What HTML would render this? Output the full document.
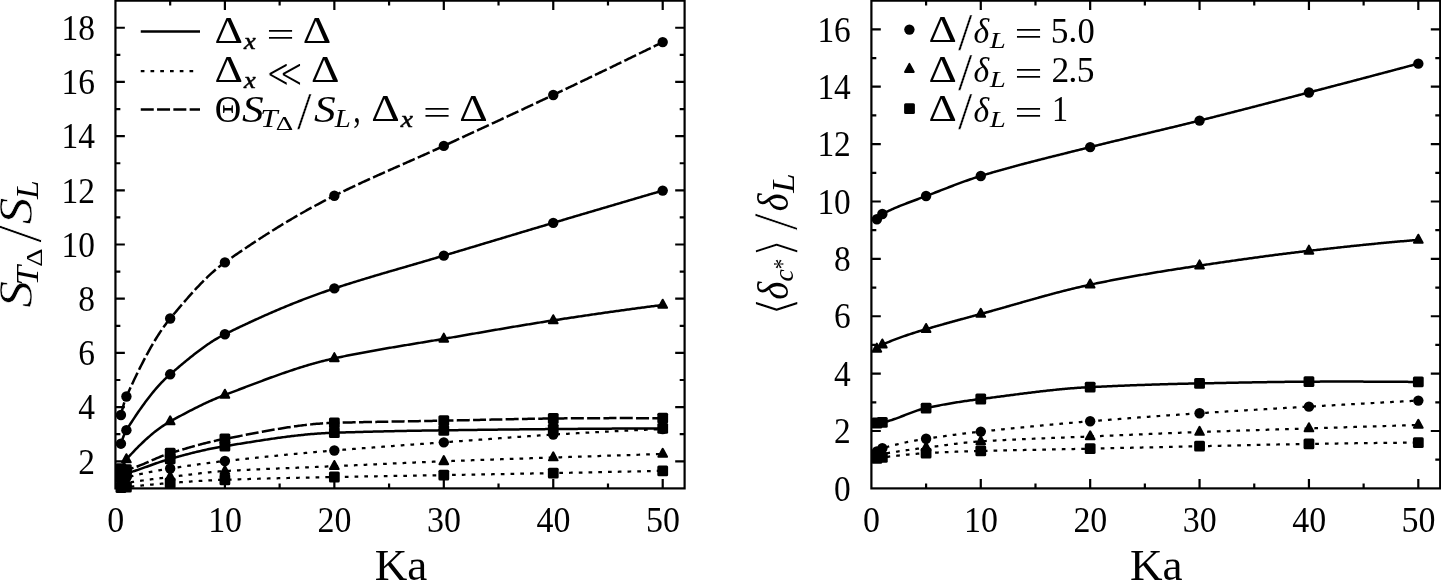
<!DOCTYPE html>
<html lang="en"><head><meta charset="utf-8"><title>Ka plots</title>
<style>html,body{margin:0;padding:0;background:#fff}svg{display:block}</style>
</head><body>
<svg width="1441" height="580" viewBox="0 0 1441 580">
<rect width="1441" height="580" fill="#fff"/>
<rect x="115.45" y="0.65" width="569.15" height="487.75" fill="none" stroke="#000" stroke-width="2.2"/>
<path d="M170.18 488.4v-4.9M170.18 0.65v4.9M224.9 488.4v-9.4M224.9 0.65v9.4M279.63 488.4v-4.9M279.63 0.65v4.9M334.35 488.4v-9.4M334.35 0.65v9.4M389.08 488.4v-4.9M389.08 0.65v4.9M443.81 488.4v-9.4M443.81 0.65v9.4M498.53 488.4v-4.9M498.53 0.65v4.9M553.26 488.4v-9.4M553.26 0.65v9.4M607.98 488.4v-4.9M607.98 0.65v4.9M662.71 488.4v-9.4M662.71 0.65v9.4M115.45 461.3h9.4M684.6 461.3h-9.4M115.45 407.11h9.4M684.6 407.11h-9.4M115.45 352.91h9.4M684.6 352.91h-9.4M115.45 298.72h9.4M684.6 298.72h-9.4M115.45 244.52h9.4M684.6 244.52h-9.4M115.45 190.33h9.4M684.6 190.33h-9.4M115.45 136.14h9.4M684.6 136.14h-9.4M115.45 81.94h9.4M684.6 81.94h-9.4M115.45 27.75h9.4M684.6 27.75h-9.4M115.45 434.21h4.9M684.6 434.21h-4.9M115.45 380.01h4.9M684.6 380.01h-4.9M115.45 325.82h4.9M684.6 325.82h-4.9M115.45 271.62h4.9M684.6 271.62h-4.9M115.45 217.43h4.9M684.6 217.43h-4.9M115.45 163.23h4.9M684.6 163.23h-4.9M115.45 109.04h4.9M684.6 109.04h-4.9M115.45 54.84h4.9M684.6 54.84h-4.9" fill="none" stroke="#000" stroke-width="2.2"/>
<g font-family="Liberation Serif, DejaVu Serif, serif" font-size="35.0" fill="#000">
<text transform="translate(115.65 531.5) scale(0.97 1)" text-anchor="middle">0</text>
<text transform="translate(225.1 531.5) scale(0.97 1)" text-anchor="middle">10</text>
<text transform="translate(334.55 531.5) scale(0.97 1)" text-anchor="middle">20</text>
<text transform="translate(444.01 531.5) scale(0.97 1)" text-anchor="middle">30</text>
<text transform="translate(553.46 531.5) scale(0.97 1)" text-anchor="middle">40</text>
<text transform="translate(662.91 531.5) scale(0.97 1)" text-anchor="middle">50</text>
<text transform="translate(94.85 473.5) scale(0.955 1)" text-anchor="end">2</text>
<text transform="translate(94.85 419.31) scale(0.955 1)" text-anchor="end">4</text>
<text transform="translate(94.85 365.11) scale(0.955 1)" text-anchor="end">6</text>
<text transform="translate(94.85 310.92) scale(0.955 1)" text-anchor="end">8</text>
<text transform="translate(94.85 256.72) scale(0.955 1)" text-anchor="end">10</text>
<text transform="translate(94.85 202.53) scale(0.955 1)" text-anchor="end">12</text>
<text transform="translate(94.85 148.34) scale(0.955 1)" text-anchor="end">14</text>
<text transform="translate(94.85 94.14) scale(0.955 1)" text-anchor="end">16</text>
<text transform="translate(94.85 39.95) scale(0.955 1)" text-anchor="end">18</text>
</g>
<path d="M120.92 414.97L122.28 409.66L123.64 404.65L125 400.21L126.35 396.63L127.71 393.63L129.07 390.66L130.43 387.72L131.79 384.8L133.14 381.91L134.5 379.05L135.86 376.21L137.22 373.42L138.57 370.65L139.93 367.92L141.29 365.23L142.65 362.57L144.01 359.95L145.36 357.37L146.72 354.83L148.08 352.33L149.44 349.87L150.8 347.46L152.15 345.09L153.51 342.77L154.87 340.49L156.23 338.27L157.58 336.09L158.94 333.97L160.3 331.9L161.66 329.88L163.02 327.91L164.37 326L165.73 324.15L167.09 322.36L168.45 320.62L169.81 318.95L171.16 317.32L172.52 315.69L173.88 314.07L175.24 312.46L176.59 310.85L177.95 309.24L179.31 307.64L180.67 306.05L182.03 304.46L183.38 302.88L184.74 301.31L186.1 299.76L187.46 298.21L188.82 296.67L190.17 295.14L191.53 293.63L192.89 292.13L194.25 290.65L195.61 289.18L196.96 287.72L198.32 286.28L199.68 284.86L201.04 283.46L202.39 282.07L203.75 280.7L205.11 279.36L206.47 278.03L207.83 276.72L209.18 275.44L210.54 274.18L211.9 272.94L213.26 271.73L214.62 270.54L215.97 269.38L217.33 268.24L218.69 267.13L220.05 266.04L221.4 264.99L222.76 263.96L224.12 262.97L225.48 262L226.84 261.04L228.19 260.08L229.55 259.13L230.91 258.18L232.27 257.23L233.63 256.29L234.98 255.34L236.34 254.4L237.7 253.47L239.06 252.54L240.41 251.61L241.77 250.68L243.13 249.76L244.49 248.84L245.85 247.92L247.2 247.01L248.56 246.1L249.92 245.19L251.28 244.29L252.64 243.39L253.99 242.49L255.35 241.6L256.71 240.71L258.07 239.82L259.42 238.93L260.78 238.05L262.14 237.18L263.5 236.3L264.86 235.43L266.21 234.57L267.57 233.7L268.93 232.84L270.29 231.99L271.65 231.13L273 230.28L274.36 229.44L275.72 228.59L277.08 227.76L278.43 226.92L279.79 226.09L281.15 225.26L282.51 224.43L283.87 223.61L285.22 222.8L286.58 221.98L287.94 221.17L289.3 220.36L290.66 219.56L292.01 218.76L293.37 217.97L294.73 217.17L296.09 216.39L297.44 215.6L298.8 214.82L300.16 214.04L301.52 213.27L302.88 212.5L304.23 211.73L305.59 210.97L306.95 210.21L308.31 209.46L309.67 208.71L311.02 207.96L312.38 207.22L313.74 206.48L315.1 205.75L316.45 205.01L317.81 204.29L319.17 203.56L320.53 202.84L321.89 202.13L323.24 201.42L324.6 200.71L325.96 200.01L327.32 199.31L328.68 198.61L330.03 197.92L331.39 197.23L332.75 196.55L334.11 195.87L335.46 195.2L336.82 194.53L338.18 193.86L339.54 193.19L340.9 192.53L342.25 191.87L343.61 191.21L344.97 190.55L346.33 189.9L347.69 189.25L349.04 188.6L350.4 187.96L351.76 187.31L353.12 186.67L354.47 186.03L355.83 185.4L357.19 184.76L358.55 184.13L359.91 183.5L361.26 182.87L362.62 182.24L363.98 181.62L365.34 181L366.7 180.38L368.05 179.76L369.41 179.14L370.77 178.52L372.13 177.91L373.48 177.29L374.84 176.68L376.2 176.07L377.56 175.46L378.92 174.85L380.27 174.24L381.63 173.63L382.99 173.03L384.35 172.42L385.71 171.82L387.06 171.21L388.42 170.61L389.78 170.01L391.14 169.41L392.5 168.81L393.85 168.21L395.21 167.61L396.57 167.01L397.93 166.41L399.28 165.81L400.64 165.21L402 164.61L403.36 164.01L404.72 163.41L406.07 162.81L407.43 162.21L408.79 161.61L410.15 161.01L411.51 160.41L412.86 159.81L414.22 159.21L415.58 158.61L416.94 158.01L418.29 157.41L419.65 156.8L421.01 156.2L422.37 155.59L423.73 154.99L425.08 154.38L426.44 153.77L427.8 153.17L429.16 152.56L430.52 151.94L431.87 151.33L433.23 150.72L434.59 150.1L435.95 149.49L437.3 148.87L438.66 148.25L440.02 147.63L441.38 147.01L442.74 146.38L444.09 145.76L445.45 145.13L446.81 144.51L448.17 143.88L449.53 143.25L450.88 142.63L452.24 142L453.6 141.37L454.96 140.75L456.31 140.12L457.67 139.49L459.03 138.87L460.39 138.24L461.75 137.61L463.1 136.99L464.46 136.36L465.82 135.73L467.18 135.11L468.54 134.48L469.89 133.85L471.25 133.22L472.61 132.6L473.97 131.97L475.32 131.34L476.68 130.71L478.04 130.09L479.4 129.46L480.76 128.83L482.11 128.2L483.47 127.57L484.83 126.94L486.19 126.31L487.55 125.69L488.9 125.06L490.26 124.43L491.62 123.8L492.98 123.17L494.33 122.54L495.69 121.91L497.05 121.28L498.41 120.65L499.77 120.02L501.12 119.39L502.48 118.75L503.84 118.12L505.2 117.49L506.56 116.86L507.91 116.23L509.27 115.6L510.63 114.96L511.99 114.33L513.34 113.7L514.7 113.06L516.06 112.43L517.42 111.8L518.78 111.16L520.13 110.53L521.49 109.89L522.85 109.26L524.21 108.62L525.57 107.99L526.92 107.35L528.28 106.72L529.64 106.08L531 105.44L532.35 104.8L533.71 104.17L535.07 103.53L536.43 102.89L537.79 102.25L539.14 101.61L540.5 100.97L541.86 100.33L543.22 99.69L544.58 99.05L545.93 98.41L547.29 97.77L548.65 97.13L550.01 96.49L551.36 95.84L552.72 95.2L554.08 94.56L555.44 93.91L556.8 93.27L558.15 92.63L559.51 91.98L560.87 91.34L562.23 90.69L563.59 90.05L564.94 89.4L566.3 88.75L567.66 88.11L569.02 87.46L570.37 86.81L571.73 86.17L573.09 85.52L574.45 84.87L575.81 84.22L577.16 83.57L578.52 82.92L579.88 82.27L581.24 81.62L582.6 80.97L583.95 80.32L585.31 79.67L586.67 79.02L588.03 78.37L589.39 77.72L590.74 77.07L592.1 76.42L593.46 75.76L594.82 75.11L596.17 74.46L597.53 73.8L598.89 73.15L600.25 72.5L601.61 71.84L602.96 71.19L604.32 70.53L605.68 69.88L607.04 69.22L608.4 68.57L609.75 67.91L611.11 67.26L612.47 66.6L613.83 65.94L615.18 65.28L616.54 64.63L617.9 63.97L619.26 63.31L620.62 62.65L621.97 61.99L623.33 61.34L624.69 60.68L626.05 60.02L627.41 59.36L628.76 58.7L630.12 58.04L631.48 57.38L632.84 56.72L634.19 56.05L635.55 55.39L636.91 54.73L638.27 54.07L639.63 53.41L640.98 52.75L642.34 52.08L643.7 51.42L645.06 50.76L646.42 50.09L647.77 49.43L649.13 48.76L650.49 48.1L651.85 47.44L653.2 46.77L654.56 46.11L655.92 45.44L657.28 44.77L658.64 44.11L659.99 43.44L661.35 42.78L662.71 42.11" fill="none" stroke="#000" stroke-width="2.5" stroke-dasharray="13 3.3"/>
<g fill="#000"><circle cx="120.92" cy="414.97" r="5.2"/><circle cx="126.4" cy="396.54" r="5.2"/><circle cx="170.18" cy="318.5" r="5.2"/><circle cx="224.9" cy="262.41" r="5.2"/><circle cx="334.35" cy="195.75" r="5.2"/><circle cx="443.81" cy="145.89" r="5.2"/><circle cx="553.26" cy="94.95" r="5.2"/><circle cx="662.71" cy="42.11" r="5.2"/></g>
<path d="M120.92 443.69L122.28 439.77L123.64 436.07L125 432.81L126.35 430.21L127.71 428.05L129.07 425.91L130.43 423.8L131.79 421.7L133.14 419.63L134.5 417.58L135.86 415.55L137.22 413.54L138.57 411.56L139.93 409.61L141.29 407.68L142.65 405.77L144.01 403.9L145.36 402.05L146.72 400.24L148.08 398.45L149.44 396.7L150.8 394.97L152.15 393.28L153.51 391.63L154.87 390L156.23 388.42L157.58 386.86L158.94 385.35L160.3 383.87L161.66 382.43L163.02 381.03L164.37 379.67L165.73 378.35L167.09 377.07L168.45 375.83L169.81 374.64L171.16 373.48L172.52 372.32L173.88 371.16L175.24 370L176.59 368.85L177.95 367.7L179.31 366.55L180.67 365.41L182.03 364.27L183.38 363.14L184.74 362.01L186.1 360.89L187.46 359.78L188.82 358.67L190.17 357.57L191.53 356.48L192.89 355.41L194.25 354.34L195.61 353.28L196.96 352.23L198.32 351.2L199.68 350.18L201.04 349.17L202.39 348.17L203.75 347.19L205.11 346.23L206.47 345.28L207.83 344.34L209.18 343.43L210.54 342.53L211.9 341.64L213.26 340.78L214.62 339.93L215.97 339.11L217.33 338.31L218.69 337.52L220.05 336.76L221.4 336.02L222.76 335.3L224.12 334.61L225.48 333.93L226.84 333.27L228.19 332.6L229.55 331.94L230.91 331.28L232.27 330.62L233.63 329.96L234.98 329.31L236.34 328.65L237.7 328L239.06 327.36L240.41 326.71L241.77 326.07L243.13 325.43L244.49 324.79L245.85 324.15L247.2 323.51L248.56 322.88L249.92 322.25L251.28 321.62L252.64 321L253.99 320.38L255.35 319.76L256.71 319.14L258.07 318.52L259.42 317.91L260.78 317.3L262.14 316.69L263.5 316.08L264.86 315.48L266.21 314.88L267.57 314.28L268.93 313.69L270.29 313.09L271.65 312.5L273 311.92L274.36 311.33L275.72 310.75L277.08 310.17L278.43 309.59L279.79 309.02L281.15 308.45L282.51 307.88L283.87 307.31L285.22 306.75L286.58 306.19L287.94 305.63L289.3 305.08L290.66 304.53L292.01 303.98L293.37 303.43L294.73 302.89L296.09 302.35L297.44 301.81L298.8 301.28L300.16 300.75L301.52 300.22L302.88 299.69L304.23 299.17L305.59 298.65L306.95 298.14L308.31 297.62L309.67 297.12L311.02 296.61L312.38 296.11L313.74 295.61L315.1 295.11L316.45 294.62L317.81 294.13L319.17 293.64L320.53 293.16L321.89 292.68L323.24 292.2L324.6 291.72L325.96 291.25L327.32 290.79L328.68 290.32L330.03 289.86L331.39 289.41L332.75 288.95L334.11 288.5L335.46 288.06L336.82 287.61L338.18 287.17L339.54 286.73L340.9 286.29L342.25 285.85L343.61 285.42L344.97 284.98L346.33 284.55L347.69 284.12L349.04 283.69L350.4 283.27L351.76 282.84L353.12 282.42L354.47 281.99L355.83 281.57L357.19 281.15L358.55 280.74L359.91 280.32L361.26 279.9L362.62 279.49L363.98 279.08L365.34 278.66L366.7 278.25L368.05 277.84L369.41 277.44L370.77 277.03L372.13 276.62L373.48 276.22L374.84 275.81L376.2 275.41L377.56 275.01L378.92 274.6L380.27 274.2L381.63 273.8L382.99 273.4L384.35 273L385.71 272.61L387.06 272.21L388.42 271.81L389.78 271.42L391.14 271.02L392.5 270.62L393.85 270.23L395.21 269.83L396.57 269.44L397.93 269.04L399.28 268.65L400.64 268.26L402 267.86L403.36 267.47L404.72 267.08L406.07 266.68L407.43 266.29L408.79 265.9L410.15 265.5L411.51 265.11L412.86 264.72L414.22 264.32L415.58 263.93L416.94 263.53L418.29 263.14L419.65 262.75L421.01 262.35L422.37 261.96L423.73 261.56L425.08 261.16L426.44 260.77L427.8 260.37L429.16 259.97L430.52 259.57L431.87 259.17L433.23 258.78L434.59 258.37L435.95 257.97L437.3 257.57L438.66 257.17L440.02 256.77L441.38 256.36L442.74 255.96L444.09 255.55L445.45 255.14L446.81 254.73L448.17 254.33L449.53 253.92L450.88 253.51L452.24 253.11L453.6 252.7L454.96 252.29L456.31 251.88L457.67 251.48L459.03 251.07L460.39 250.66L461.75 250.25L463.1 249.85L464.46 249.44L465.82 249.03L467.18 248.62L468.54 248.22L469.89 247.81L471.25 247.4L472.61 246.99L473.97 246.58L475.32 246.18L476.68 245.77L478.04 245.36L479.4 244.95L480.76 244.55L482.11 244.14L483.47 243.73L484.83 243.32L486.19 242.91L487.55 242.51L488.9 242.1L490.26 241.69L491.62 241.28L492.98 240.87L494.33 240.47L495.69 240.06L497.05 239.65L498.41 239.24L499.77 238.84L501.12 238.43L502.48 238.02L503.84 237.61L505.2 237.21L506.56 236.8L507.91 236.39L509.27 235.98L510.63 235.58L511.99 235.17L513.34 234.76L514.7 234.36L516.06 233.95L517.42 233.54L518.78 233.14L520.13 232.73L521.49 232.32L522.85 231.92L524.21 231.51L525.57 231.1L526.92 230.7L528.28 230.29L529.64 229.89L531 229.48L532.35 229.07L533.71 228.67L535.07 228.26L536.43 227.86L537.79 227.45L539.14 227.05L540.5 226.64L541.86 226.24L543.22 225.83L544.58 225.43L545.93 225.03L547.29 224.62L548.65 224.22L550.01 223.81L551.36 223.41L552.72 223.01L554.08 222.6L555.44 222.2L556.8 221.8L558.15 221.39L559.51 220.99L560.87 220.59L562.23 220.18L563.59 219.78L564.94 219.38L566.3 218.98L567.66 218.57L569.02 218.17L570.37 217.77L571.73 217.37L573.09 216.96L574.45 216.56L575.81 216.16L577.16 215.76L578.52 215.36L579.88 214.95L581.24 214.55L582.6 214.15L583.95 213.75L585.31 213.35L586.67 212.95L588.03 212.54L589.39 212.14L590.74 211.74L592.1 211.34L593.46 210.94L594.82 210.54L596.17 210.14L597.53 209.74L598.89 209.34L600.25 208.94L601.61 208.54L602.96 208.14L604.32 207.74L605.68 207.34L607.04 206.94L608.4 206.53L609.75 206.13L611.11 205.74L612.47 205.34L613.83 204.94L615.18 204.54L616.54 204.14L617.9 203.74L619.26 203.34L620.62 202.94L621.97 202.54L623.33 202.14L624.69 201.74L626.05 201.34L627.41 200.94L628.76 200.54L630.12 200.15L631.48 199.75L632.84 199.35L634.19 198.95L635.55 198.55L636.91 198.15L638.27 197.75L639.63 197.36L640.98 196.96L642.34 196.56L643.7 196.16L645.06 195.76L646.42 195.37L647.77 194.97L649.13 194.57L650.49 194.17L651.85 193.78L653.2 193.38L654.56 192.98L655.92 192.59L657.28 192.19L658.64 191.79L659.99 191.39L661.35 191L662.71 190.6" fill="none" stroke="#000" stroke-width="2.5"/>
<g fill="#000"><circle cx="120.92" cy="443.69" r="5.2"/><circle cx="126.4" cy="430.14" r="5.2"/><circle cx="170.18" cy="374.32" r="5.2"/><circle cx="224.9" cy="334.22" r="5.2"/><circle cx="334.35" cy="288.42" r="5.2"/><circle cx="443.81" cy="255.63" r="5.2"/><circle cx="553.26" cy="222.85" r="5.2"/><circle cx="662.71" cy="190.6" r="5.2"/></g>
<path d="M120.92 470.52L122.28 467.22L123.64 464.11L125 461.43L126.35 459.45L127.71 457.94L129.07 456.44L130.43 454.96L131.79 453.5L133.14 452.05L134.5 450.63L135.86 449.22L137.22 447.84L138.57 446.47L139.93 445.12L141.29 443.8L142.65 442.5L144.01 441.22L145.36 439.96L146.72 438.72L148.08 437.51L149.44 436.32L150.8 435.16L152.15 434.02L153.51 432.9L154.87 431.82L156.23 430.75L157.58 429.72L158.94 428.71L160.3 427.73L161.66 426.78L163.02 425.85L164.37 424.96L165.73 424.09L167.09 423.26L168.45 422.45L169.81 421.68L171.16 420.92L172.52 420.18L173.88 419.43L175.24 418.69L176.59 417.95L177.95 417.21L179.31 416.47L180.67 415.74L182.03 415.01L183.38 414.29L184.74 413.56L186.1 412.85L187.46 412.13L188.82 411.42L190.17 410.72L191.53 410.02L192.89 409.33L194.25 408.64L195.61 407.95L196.96 407.27L198.32 406.6L199.68 405.94L201.04 405.28L202.39 404.62L203.75 403.97L205.11 403.33L206.47 402.7L207.83 402.08L209.18 401.46L210.54 400.85L211.9 400.24L213.26 399.65L214.62 399.06L215.97 398.49L217.33 397.92L218.69 397.36L220.05 396.81L221.4 396.26L222.76 395.73L224.12 395.21L225.48 394.7L226.84 394.19L228.19 393.67L229.55 393.16L230.91 392.64L232.27 392.13L233.63 391.61L234.98 391.09L236.34 390.58L237.7 390.06L239.06 389.54L240.41 389.02L241.77 388.51L243.13 387.99L244.49 387.47L245.85 386.95L247.2 386.44L248.56 385.92L249.92 385.4L251.28 384.89L252.64 384.37L253.99 383.86L255.35 383.35L256.71 382.84L258.07 382.32L259.42 381.81L260.78 381.31L262.14 380.8L263.5 380.29L264.86 379.79L266.21 379.29L267.57 378.79L268.93 378.29L270.29 377.79L271.65 377.3L273 376.8L274.36 376.31L275.72 375.83L277.08 375.34L278.43 374.86L279.79 374.38L281.15 373.9L282.51 373.43L283.87 372.95L285.22 372.48L286.58 372.02L287.94 371.56L289.3 371.1L290.66 370.64L292.01 370.19L293.37 369.74L294.73 369.29L296.09 368.85L297.44 368.41L298.8 367.98L300.16 367.55L301.52 367.12L302.88 366.7L304.23 366.29L305.59 365.87L306.95 365.46L308.31 365.06L309.67 364.66L311.02 364.27L312.38 363.88L313.74 363.49L315.1 363.11L316.45 362.74L317.81 362.37L319.17 362.01L320.53 361.65L321.89 361.3L323.24 360.95L324.6 360.61L325.96 360.27L327.32 359.94L328.68 359.62L330.03 359.3L331.39 358.99L332.75 358.69L334.11 358.39L335.46 358.09L336.82 357.8L338.18 357.51L339.54 357.23L340.9 356.94L342.25 356.66L343.61 356.38L344.97 356.1L346.33 355.83L347.69 355.55L349.04 355.28L350.4 355.01L351.76 354.74L353.12 354.48L354.47 354.21L355.83 353.95L357.19 353.69L358.55 353.43L359.91 353.17L361.26 352.91L362.62 352.66L363.98 352.41L365.34 352.16L366.7 351.91L368.05 351.66L369.41 351.41L370.77 351.16L372.13 350.92L373.48 350.68L374.84 350.43L376.2 350.19L377.56 349.95L378.92 349.71L380.27 349.48L381.63 349.24L382.99 349L384.35 348.77L385.71 348.54L387.06 348.3L388.42 348.07L389.78 347.84L391.14 347.61L392.5 347.38L393.85 347.15L395.21 346.92L396.57 346.69L397.93 346.47L399.28 346.24L400.64 346.01L402 345.79L403.36 345.56L404.72 345.34L406.07 345.11L407.43 344.89L408.79 344.66L410.15 344.44L411.51 344.21L412.86 343.99L414.22 343.76L415.58 343.54L416.94 343.32L418.29 343.09L419.65 342.87L421.01 342.64L422.37 342.42L423.73 342.2L425.08 341.97L426.44 341.75L427.8 341.52L429.16 341.29L430.52 341.07L431.87 340.84L433.23 340.61L434.59 340.39L435.95 340.16L437.3 339.93L438.66 339.7L440.02 339.47L441.38 339.24L442.74 339.01L444.09 338.77L445.45 338.54L446.81 338.31L448.17 338.07L449.53 337.84L450.88 337.61L452.24 337.37L453.6 337.14L454.96 336.9L456.31 336.67L457.67 336.43L459.03 336.2L460.39 335.96L461.75 335.73L463.1 335.49L464.46 335.26L465.82 335.02L467.18 334.79L468.54 334.55L469.89 334.32L471.25 334.08L472.61 333.84L473.97 333.61L475.32 333.37L476.68 333.14L478.04 332.9L479.4 332.67L480.76 332.43L482.11 332.2L483.47 331.96L484.83 331.73L486.19 331.49L487.55 331.26L488.9 331.02L490.26 330.79L491.62 330.55L492.98 330.32L494.33 330.09L495.69 329.85L497.05 329.62L498.41 329.39L499.77 329.16L501.12 328.92L502.48 328.69L503.84 328.46L505.2 328.23L506.56 328L507.91 327.77L509.27 327.54L510.63 327.31L511.99 327.08L513.34 326.85L514.7 326.62L516.06 326.39L517.42 326.17L518.78 325.94L520.13 325.71L521.49 325.49L522.85 325.26L524.21 325.04L525.57 324.82L526.92 324.59L528.28 324.37L529.64 324.15L531 323.93L532.35 323.7L533.71 323.48L535.07 323.26L536.43 323.05L537.79 322.83L539.14 322.61L540.5 322.39L541.86 322.18L543.22 321.96L544.58 321.75L545.93 321.53L547.29 321.32L548.65 321.11L550.01 320.9L551.36 320.69L552.72 320.48L554.08 320.27L555.44 320.06L556.8 319.85L558.15 319.65L559.51 319.44L560.87 319.23L562.23 319.03L563.59 318.82L564.94 318.61L566.3 318.41L567.66 318.2L569.02 318L570.37 317.79L571.73 317.59L573.09 317.39L574.45 317.18L575.81 316.98L577.16 316.78L578.52 316.57L579.88 316.37L581.24 316.17L582.6 315.97L583.95 315.77L585.31 315.57L586.67 315.37L588.03 315.17L589.39 314.97L590.74 314.77L592.1 314.57L593.46 314.37L594.82 314.18L596.17 313.98L597.53 313.78L598.89 313.59L600.25 313.39L601.61 313.2L602.96 313L604.32 312.81L605.68 312.61L607.04 312.42L608.4 312.23L609.75 312.03L611.11 311.84L612.47 311.65L613.83 311.46L615.18 311.27L616.54 311.08L617.9 310.89L619.26 310.7L620.62 310.51L621.97 310.32L623.33 310.14L624.69 309.95L626.05 309.76L627.41 309.58L628.76 309.39L630.12 309.21L631.48 309.02L632.84 308.84L634.19 308.66L635.55 308.48L636.91 308.29L638.27 308.11L639.63 307.93L640.98 307.75L642.34 307.57L643.7 307.39L645.06 307.21L646.42 307.04L647.77 306.86L649.13 306.68L650.49 306.51L651.85 306.33L653.2 306.16L654.56 305.98L655.92 305.81L657.28 305.64L658.64 305.46L659.99 305.29L661.35 305.12L662.71 304.95" fill="none" stroke="#000" stroke-width="2.5"/>
<g fill="#000"><path d="M120.92 465.32L125.27 473.37H116.57Z" stroke="#000" stroke-width="2" stroke-linejoin="round"/><path d="M126.4 454.21L130.75 462.26H122.05Z" stroke="#000" stroke-width="2" stroke-linejoin="round"/><path d="M170.18 416.27L174.53 424.32H165.83Z" stroke="#000" stroke-width="2" stroke-linejoin="round"/><path d="M224.9 389.71L229.25 397.76H220.55Z" stroke="#000" stroke-width="2" stroke-linejoin="round"/><path d="M334.35 353.13L338.7 361.18H330Z" stroke="#000" stroke-width="2" stroke-linejoin="round"/><path d="M443.81 333.62L448.16 341.67H439.46Z" stroke="#000" stroke-width="2" stroke-linejoin="round"/><path d="M553.26 315.2L557.61 323.25H548.91Z" stroke="#000" stroke-width="2" stroke-linejoin="round"/><path d="M662.71 299.75L667.06 307.8H658.36Z" stroke="#000" stroke-width="2" stroke-linejoin="round"/></g>
<path d="M120.92 468.62L122.28 469.12L123.64 469.55L125 469.79L126.35 469.71L127.71 469.41L129.07 469.08L130.43 468.71L131.79 468.32L133.14 467.89L134.5 467.45L135.86 466.98L137.22 466.49L138.57 465.98L139.93 465.45L141.29 464.9L142.65 464.35L144.01 463.78L145.36 463.2L146.72 462.61L148.08 462.02L149.44 461.42L150.8 460.82L152.15 460.22L153.51 459.63L154.87 459.03L156.23 458.44L157.58 457.86L158.94 457.29L160.3 456.73L161.66 456.18L163.02 455.65L164.37 455.14L165.73 454.64L167.09 454.17L168.45 453.71L169.81 453.29L171.16 452.88L172.52 452.47L173.88 452.06L175.24 451.66L176.59 451.25L177.95 450.84L179.31 450.44L180.67 450.04L182.03 449.63L183.38 449.23L184.74 448.83L186.1 448.44L187.46 448.04L188.82 447.65L190.17 447.26L191.53 446.87L192.89 446.49L194.25 446.11L195.61 445.73L196.96 445.36L198.32 444.99L199.68 444.62L201.04 444.26L202.39 443.9L203.75 443.55L205.11 443.2L206.47 442.86L207.83 442.52L209.18 442.19L210.54 441.86L211.9 441.54L213.26 441.23L214.62 440.92L215.97 440.62L217.33 440.32L218.69 440.04L220.05 439.75L221.4 439.48L222.76 439.22L224.12 438.96L225.48 438.71L226.84 438.46L228.19 438.2L229.55 437.95L230.91 437.69L232.27 437.44L233.63 437.18L234.98 436.93L236.34 436.67L237.7 436.41L239.06 436.15L240.41 435.89L241.77 435.63L243.13 435.37L244.49 435.11L245.85 434.85L247.2 434.59L248.56 434.33L249.92 434.07L251.28 433.81L252.64 433.55L253.99 433.3L255.35 433.04L256.71 432.78L258.07 432.53L259.42 432.27L260.78 432.02L262.14 431.77L263.5 431.52L264.86 431.27L266.21 431.02L267.57 430.77L268.93 430.53L270.29 430.29L271.65 430.04L273 429.81L274.36 429.57L275.72 429.34L277.08 429.1L278.43 428.87L279.79 428.65L281.15 428.42L282.51 428.2L283.87 427.98L285.22 427.77L286.58 427.55L287.94 427.35L289.3 427.14L290.66 426.94L292.01 426.74L293.37 426.54L294.73 426.35L296.09 426.16L297.44 425.98L298.8 425.8L300.16 425.62L301.52 425.45L302.88 425.28L304.23 425.12L305.59 424.96L306.95 424.8L308.31 424.65L309.67 424.51L311.02 424.37L312.38 424.23L313.74 424.1L315.1 423.98L316.45 423.86L317.81 423.74L319.17 423.63L320.53 423.53L321.89 423.43L323.24 423.34L324.6 423.26L325.96 423.18L327.32 423.1L328.68 423.04L330.03 422.98L331.39 422.92L332.75 422.87L334.11 422.83L335.46 422.79L336.82 422.76L338.18 422.72L339.54 422.69L340.9 422.65L342.25 422.62L343.61 422.58L344.97 422.55L346.33 422.52L347.69 422.49L349.04 422.45L350.4 422.42L351.76 422.39L353.12 422.36L354.47 422.33L355.83 422.3L357.19 422.27L358.55 422.24L359.91 422.21L361.26 422.18L362.62 422.15L363.98 422.12L365.34 422.09L366.7 422.07L368.05 422.04L369.41 422.01L370.77 421.98L372.13 421.96L373.48 421.93L374.84 421.9L376.2 421.88L377.56 421.85L378.92 421.83L380.27 421.8L381.63 421.78L382.99 421.75L384.35 421.73L385.71 421.7L387.06 421.68L388.42 421.65L389.78 421.63L391.14 421.6L392.5 421.58L393.85 421.56L395.21 421.53L396.57 421.51L397.93 421.48L399.28 421.46L400.64 421.44L402 421.41L403.36 421.39L404.72 421.37L406.07 421.34L407.43 421.32L408.79 421.29L410.15 421.27L411.51 421.25L412.86 421.22L414.22 421.2L415.58 421.18L416.94 421.15L418.29 421.13L419.65 421.1L421.01 421.08L422.37 421.06L423.73 421.03L425.08 421.01L426.44 420.98L427.8 420.96L429.16 420.93L430.52 420.91L431.87 420.88L433.23 420.86L434.59 420.83L435.95 420.81L437.3 420.78L438.66 420.76L440.02 420.73L441.38 420.7L442.74 420.68L444.09 420.65L445.45 420.62L446.81 420.6L448.17 420.57L449.53 420.54L450.88 420.51L452.24 420.49L453.6 420.46L454.96 420.43L456.31 420.4L457.67 420.37L459.03 420.34L460.39 420.31L461.75 420.28L463.1 420.25L464.46 420.22L465.82 420.19L467.18 420.16L468.54 420.13L469.89 420.1L471.25 420.07L472.61 420.04L473.97 420.01L475.32 419.98L476.68 419.95L478.04 419.92L479.4 419.89L480.76 419.86L482.11 419.83L483.47 419.8L484.83 419.77L486.19 419.74L487.55 419.71L488.9 419.68L490.26 419.65L491.62 419.62L492.98 419.59L494.33 419.56L495.69 419.53L497.05 419.5L498.41 419.47L499.77 419.44L501.12 419.41L502.48 419.38L503.84 419.35L505.2 419.32L506.56 419.29L507.91 419.26L509.27 419.24L510.63 419.21L511.99 419.18L513.34 419.15L514.7 419.12L516.06 419.1L517.42 419.07L518.78 419.04L520.13 419.02L521.49 418.99L522.85 418.97L524.21 418.94L525.57 418.92L526.92 418.89L528.28 418.87L529.64 418.84L531 418.82L532.35 418.79L533.71 418.77L535.07 418.75L536.43 418.73L537.79 418.71L539.14 418.68L540.5 418.66L541.86 418.64L543.22 418.62L544.58 418.6L545.93 418.58L547.29 418.57L548.65 418.55L550.01 418.53L551.36 418.51L552.72 418.5L554.08 418.48L555.44 418.46L556.8 418.45L558.15 418.43L559.51 418.42L560.87 418.4L562.23 418.39L563.59 418.38L564.94 418.36L566.3 418.35L567.66 418.34L569.02 418.33L570.37 418.32L571.73 418.3L573.09 418.29L574.45 418.28L575.81 418.27L577.16 418.26L578.52 418.25L579.88 418.24L581.24 418.24L582.6 418.23L583.95 418.22L585.31 418.21L586.67 418.2L588.03 418.2L589.39 418.19L590.74 418.18L592.1 418.18L593.46 418.17L594.82 418.17L596.17 418.16L597.53 418.16L598.89 418.15L600.25 418.15L601.61 418.14L602.96 418.14L604.32 418.14L605.68 418.13L607.04 418.13L608.4 418.13L609.75 418.12L611.11 418.12L612.47 418.12L613.83 418.12L615.18 418.12L616.54 418.12L617.9 418.12L619.26 418.12L620.62 418.12L621.97 418.12L623.33 418.12L624.69 418.12L626.05 418.12L627.41 418.12L628.76 418.12L630.12 418.12L631.48 418.12L632.84 418.12L634.19 418.13L635.55 418.13L636.91 418.13L638.27 418.13L639.63 418.14L640.98 418.14L642.34 418.14L643.7 418.15L645.06 418.15L646.42 418.16L647.77 418.16L649.13 418.16L650.49 418.17L651.85 418.17L653.2 418.18L654.56 418.18L655.92 418.19L657.28 418.19L658.64 418.2L659.99 418.21L661.35 418.21L662.71 418.22" fill="none" stroke="#000" stroke-width="2.5" stroke-dasharray="13 3.3"/>
<g fill="#000"><rect x="115.52" y="463.22" width="10.8" height="10.8" rx="1.5" ry="1.5"/><rect x="121" y="464.3" width="10.8" height="10.8" rx="1.5" ry="1.5"/><rect x="164.78" y="447.77" width="10.8" height="10.8" rx="1.5" ry="1.5"/><rect x="219.5" y="433.41" width="10.8" height="10.8" rx="1.5" ry="1.5"/><rect x="328.95" y="417.42" width="10.8" height="10.8" rx="1.5" ry="1.5"/><rect x="438.41" y="415.26" width="10.8" height="10.8" rx="1.5" ry="1.5"/><rect x="547.86" y="413.09" width="10.8" height="10.8" rx="1.5" ry="1.5"/><rect x="657.31" y="412.82" width="10.8" height="10.8" rx="1.5" ry="1.5"/></g>
<path d="M120.92 474.85L122.28 474.57L123.64 474.24L125 473.89L126.35 473.51L127.71 473.12L129.07 472.71L130.43 472.29L131.79 471.87L133.14 471.43L134.5 470.98L135.86 470.53L137.22 470.07L138.57 469.6L139.93 469.12L141.29 468.65L142.65 468.16L144.01 467.68L145.36 467.19L146.72 466.7L148.08 466.21L149.44 465.72L150.8 465.23L152.15 464.74L153.51 464.26L154.87 463.78L156.23 463.3L157.58 462.83L158.94 462.37L160.3 461.91L161.66 461.46L163.02 461.02L164.37 460.58L165.73 460.16L167.09 459.75L168.45 459.35L169.81 458.97L171.16 458.59L172.52 458.22L173.88 457.84L175.24 457.47L176.59 457.1L177.95 456.73L179.31 456.36L180.67 456L182.03 455.63L183.38 455.27L184.74 454.91L186.1 454.56L187.46 454.2L188.82 453.85L190.17 453.5L191.53 453.16L192.89 452.82L194.25 452.48L195.61 452.15L196.96 451.81L198.32 451.49L199.68 451.17L201.04 450.85L202.39 450.53L203.75 450.22L205.11 449.92L206.47 449.62L207.83 449.33L209.18 449.04L210.54 448.75L211.9 448.48L213.26 448.2L214.62 447.94L215.97 447.68L217.33 447.42L218.69 447.18L220.05 446.93L221.4 446.7L222.76 446.47L224.12 446.25L225.48 446.04L226.84 445.82L228.19 445.61L229.55 445.4L230.91 445.18L232.27 444.96L233.63 444.75L234.98 444.53L236.34 444.32L237.7 444.1L239.06 443.88L240.41 443.66L241.77 443.45L243.13 443.23L244.49 443.01L245.85 442.8L247.2 442.58L248.56 442.36L249.92 442.15L251.28 441.93L252.64 441.72L253.99 441.51L255.35 441.29L256.71 441.08L258.07 440.87L259.42 440.66L260.78 440.45L262.14 440.24L263.5 440.04L264.86 439.83L266.21 439.63L267.57 439.43L268.93 439.22L270.29 439.02L271.65 438.83L273 438.63L274.36 438.44L275.72 438.24L277.08 438.05L278.43 437.86L279.79 437.68L281.15 437.49L282.51 437.31L283.87 437.13L285.22 436.95L286.58 436.78L287.94 436.6L289.3 436.43L290.66 436.27L292.01 436.1L293.37 435.94L294.73 435.78L296.09 435.62L297.44 435.47L298.8 435.32L300.16 435.17L301.52 435.03L302.88 434.89L304.23 434.75L305.59 434.61L306.95 434.48L308.31 434.36L309.67 434.23L311.02 434.11L312.38 434L313.74 433.89L315.1 433.78L316.45 433.68L317.81 433.58L319.17 433.48L320.53 433.39L321.89 433.3L323.24 433.22L324.6 433.14L325.96 433.07L327.32 433L328.68 432.93L330.03 432.87L331.39 432.82L332.75 432.77L334.11 432.72L335.46 432.68L336.82 432.64L338.18 432.6L339.54 432.56L340.9 432.52L342.25 432.48L343.61 432.44L344.97 432.4L346.33 432.36L347.69 432.32L349.04 432.28L350.4 432.24L351.76 432.2L353.12 432.16L354.47 432.13L355.83 432.09L357.19 432.05L358.55 432.01L359.91 431.98L361.26 431.94L362.62 431.9L363.98 431.87L365.34 431.83L366.7 431.8L368.05 431.76L369.41 431.73L370.77 431.69L372.13 431.66L373.48 431.62L374.84 431.59L376.2 431.56L377.56 431.52L378.92 431.49L380.27 431.46L381.63 431.43L382.99 431.39L384.35 431.36L385.71 431.33L387.06 431.3L388.42 431.27L389.78 431.24L391.14 431.21L392.5 431.18L393.85 431.15L395.21 431.12L396.57 431.09L397.93 431.06L399.28 431.04L400.64 431.01L402 430.98L403.36 430.95L404.72 430.93L406.07 430.9L407.43 430.87L408.79 430.85L410.15 430.82L411.51 430.8L412.86 430.77L414.22 430.75L415.58 430.73L416.94 430.7L418.29 430.68L419.65 430.66L421.01 430.63L422.37 430.61L423.73 430.59L425.08 430.57L426.44 430.54L427.8 430.52L429.16 430.5L430.52 430.48L431.87 430.46L433.23 430.44L434.59 430.42L435.95 430.41L437.3 430.39L438.66 430.37L440.02 430.35L441.38 430.33L442.74 430.32L444.09 430.3L445.45 430.28L446.81 430.27L448.17 430.25L449.53 430.23L450.88 430.22L452.24 430.2L453.6 430.18L454.96 430.17L456.31 430.15L457.67 430.13L459.03 430.11L460.39 430.1L461.75 430.08L463.1 430.06L464.46 430.05L465.82 430.03L467.18 430.01L468.54 429.99L469.89 429.98L471.25 429.96L472.61 429.94L473.97 429.92L475.32 429.91L476.68 429.89L478.04 429.87L479.4 429.85L480.76 429.84L482.11 429.82L483.47 429.8L484.83 429.79L486.19 429.77L487.55 429.75L488.9 429.73L490.26 429.72L491.62 429.7L492.98 429.68L494.33 429.67L495.69 429.65L497.05 429.63L498.41 429.62L499.77 429.6L501.12 429.58L502.48 429.57L503.84 429.55L505.2 429.54L506.56 429.52L507.91 429.5L509.27 429.49L510.63 429.47L511.99 429.46L513.34 429.44L514.7 429.43L516.06 429.41L517.42 429.4L518.78 429.38L520.13 429.37L521.49 429.35L522.85 429.34L524.21 429.32L525.57 429.31L526.92 429.29L528.28 429.28L529.64 429.27L531 429.25L532.35 429.24L533.71 429.23L535.07 429.21L536.43 429.2L537.79 429.19L539.14 429.17L540.5 429.16L541.86 429.15L543.22 429.14L544.58 429.13L545.93 429.12L547.29 429.1L548.65 429.09L550.01 429.08L551.36 429.07L552.72 429.06L554.08 429.05L555.44 429.04L556.8 429.03L558.15 429.02L559.51 429.01L560.87 429L562.23 428.99L563.59 428.98L564.94 428.97L566.3 428.96L567.66 428.95L569.02 428.94L570.37 428.93L571.73 428.92L573.09 428.91L574.45 428.9L575.81 428.89L577.16 428.88L578.52 428.87L579.88 428.86L581.24 428.85L582.6 428.84L583.95 428.83L585.31 428.82L586.67 428.81L588.03 428.8L589.39 428.79L590.74 428.78L592.1 428.77L593.46 428.76L594.82 428.75L596.17 428.74L597.53 428.73L598.89 428.72L600.25 428.71L601.61 428.7L602.96 428.69L604.32 428.68L605.68 428.67L607.04 428.66L608.4 428.65L609.75 428.64L611.11 428.63L612.47 428.62L613.83 428.61L615.18 428.61L616.54 428.6L617.9 428.59L619.26 428.58L620.62 428.57L621.97 428.56L623.33 428.56L624.69 428.55L626.05 428.54L627.41 428.53L628.76 428.52L630.12 428.52L631.48 428.51L632.84 428.5L634.19 428.49L635.55 428.49L636.91 428.48L638.27 428.47L639.63 428.47L640.98 428.46L642.34 428.45L643.7 428.45L645.06 428.44L646.42 428.44L647.77 428.43L649.13 428.43L650.49 428.42L651.85 428.41L653.2 428.41L654.56 428.4L655.92 428.4L657.28 428.4L658.64 428.39L659.99 428.39L661.35 428.38L662.71 428.38" fill="none" stroke="#000" stroke-width="2.5"/>
<g fill="#000"><rect x="115.52" y="469.45" width="10.8" height="10.8" rx="1.5" ry="1.5"/><rect x="121" y="468.1" width="10.8" height="10.8" rx="1.5" ry="1.5"/><rect x="164.78" y="453.46" width="10.8" height="10.8" rx="1.5" ry="1.5"/><rect x="219.5" y="440.73" width="10.8" height="10.8" rx="1.5" ry="1.5"/><rect x="328.95" y="427.32" width="10.8" height="10.8" rx="1.5" ry="1.5"/><rect x="438.41" y="424.9" width="10.8" height="10.8" rx="1.5" ry="1.5"/><rect x="547.86" y="423.66" width="10.8" height="10.8" rx="1.5" ry="1.5"/><rect x="657.31" y="422.98" width="10.8" height="10.8" rx="1.5" ry="1.5"/></g>
<path d="M120.92 480.54L122.28 479.64L123.64 478.8L125 478.08L126.35 477.57L127.71 477.21L129.07 476.85L130.43 476.49L131.79 476.15L133.14 475.8L134.5 475.47L135.86 475.14L137.22 474.81L138.57 474.49L139.93 474.18L141.29 473.87L142.65 473.56L144.01 473.26L145.36 472.97L146.72 472.68L148.08 472.4L149.44 472.12L150.8 471.85L152.15 471.58L153.51 471.32L154.87 471.06L156.23 470.81L157.58 470.56L158.94 470.31L160.3 470.08L161.66 469.84L163.02 469.61L164.37 469.39L165.73 469.17L167.09 468.95L168.45 468.74L169.81 468.54L171.16 468.34L172.52 468.13L173.88 467.93L175.24 467.73L176.59 467.53L177.95 467.33L179.31 467.12L180.67 466.92L182.03 466.72L183.38 466.52L184.74 466.32L186.1 466.12L187.46 465.92L188.82 465.73L190.17 465.53L191.53 465.33L192.89 465.14L194.25 464.95L195.61 464.75L196.96 464.56L198.32 464.37L199.68 464.19L201.04 464L202.39 463.81L203.75 463.63L205.11 463.45L206.47 463.27L207.83 463.09L209.18 462.91L210.54 462.74L211.9 462.56L213.26 462.39L214.62 462.23L215.97 462.06L217.33 461.9L218.69 461.74L220.05 461.58L221.4 461.42L222.76 461.27L224.12 461.12L225.48 460.97L226.84 460.82L228.19 460.67L229.55 460.53L230.91 460.38L232.27 460.24L233.63 460.09L234.98 459.94L236.34 459.8L237.7 459.66L239.06 459.51L240.41 459.37L241.77 459.22L243.13 459.08L244.49 458.94L245.85 458.79L247.2 458.65L248.56 458.51L249.92 458.37L251.28 458.23L252.64 458.09L253.99 457.95L255.35 457.81L256.71 457.67L258.07 457.53L259.42 457.39L260.78 457.25L262.14 457.11L263.5 456.98L264.86 456.84L266.21 456.7L267.57 456.57L268.93 456.43L270.29 456.3L271.65 456.16L273 456.03L274.36 455.89L275.72 455.76L277.08 455.63L278.43 455.49L279.79 455.36L281.15 455.23L282.51 455.1L283.87 454.97L285.22 454.84L286.58 454.71L287.94 454.58L289.3 454.45L290.66 454.32L292.01 454.19L293.37 454.06L294.73 453.94L296.09 453.81L297.44 453.68L298.8 453.56L300.16 453.43L301.52 453.31L302.88 453.19L304.23 453.06L305.59 452.94L306.95 452.82L308.31 452.69L309.67 452.57L311.02 452.45L312.38 452.33L313.74 452.21L315.1 452.09L316.45 451.97L317.81 451.86L319.17 451.74L320.53 451.62L321.89 451.51L323.24 451.39L324.6 451.27L325.96 451.16L327.32 451.05L328.68 450.93L330.03 450.82L331.39 450.71L332.75 450.6L334.11 450.48L335.46 450.37L336.82 450.26L338.18 450.15L339.54 450.04L340.9 449.93L342.25 449.83L343.61 449.72L344.97 449.61L346.33 449.5L347.69 449.4L349.04 449.29L350.4 449.18L351.76 449.08L353.12 448.97L354.47 448.87L355.83 448.76L357.19 448.66L358.55 448.55L359.91 448.45L361.26 448.34L362.62 448.24L363.98 448.14L365.34 448.03L366.7 447.93L368.05 447.83L369.41 447.73L370.77 447.62L372.13 447.52L373.48 447.42L374.84 447.32L376.2 447.22L377.56 447.12L378.92 447.02L380.27 446.92L381.63 446.82L382.99 446.72L384.35 446.62L385.71 446.52L387.06 446.42L388.42 446.32L389.78 446.22L391.14 446.12L392.5 446.02L393.85 445.92L395.21 445.82L396.57 445.73L397.93 445.63L399.28 445.53L400.64 445.43L402 445.33L403.36 445.24L404.72 445.14L406.07 445.04L407.43 444.94L408.79 444.85L410.15 444.75L411.51 444.65L412.86 444.55L414.22 444.46L415.58 444.36L416.94 444.26L418.29 444.16L419.65 444.07L421.01 443.97L422.37 443.87L423.73 443.78L425.08 443.68L426.44 443.58L427.8 443.48L429.16 443.39L430.52 443.29L431.87 443.19L433.23 443.1L434.59 443L435.95 442.9L437.3 442.8L438.66 442.71L440.02 442.61L441.38 442.51L442.74 442.41L444.09 442.31L445.45 442.22L446.81 442.12L448.17 442.02L449.53 441.92L450.88 441.82L452.24 441.72L453.6 441.62L454.96 441.52L456.31 441.42L457.67 441.32L459.03 441.22L460.39 441.12L461.75 441.02L463.1 440.92L464.46 440.82L465.82 440.72L467.18 440.62L468.54 440.52L469.89 440.42L471.25 440.32L472.61 440.22L473.97 440.12L475.32 440.01L476.68 439.91L478.04 439.81L479.4 439.71L480.76 439.61L482.11 439.51L483.47 439.41L484.83 439.31L486.19 439.21L487.55 439.11L488.9 439.01L490.26 438.91L491.62 438.81L492.98 438.71L494.33 438.61L495.69 438.51L497.05 438.41L498.41 438.31L499.77 438.21L501.12 438.11L502.48 438.01L503.84 437.92L505.2 437.82L506.56 437.72L507.91 437.62L509.27 437.53L510.63 437.43L511.99 437.33L513.34 437.24L514.7 437.14L516.06 437.04L517.42 436.95L518.78 436.85L520.13 436.76L521.49 436.67L522.85 436.57L524.21 436.48L525.57 436.39L526.92 436.3L528.28 436.2L529.64 436.11L531 436.02L532.35 435.93L533.71 435.84L535.07 435.75L536.43 435.66L537.79 435.57L539.14 435.49L540.5 435.4L541.86 435.31L543.22 435.23L544.58 435.14L545.93 435.06L547.29 434.97L548.65 434.89L550.01 434.81L551.36 434.73L552.72 434.64L554.08 434.56L555.44 434.48L556.8 434.4L558.15 434.32L559.51 434.24L560.87 434.16L562.23 434.08L563.59 434L564.94 433.92L566.3 433.84L567.66 433.76L569.02 433.69L570.37 433.61L571.73 433.53L573.09 433.45L574.45 433.37L575.81 433.29L577.16 433.22L578.52 433.14L579.88 433.06L581.24 432.99L582.6 432.91L583.95 432.83L585.31 432.76L586.67 432.68L588.03 432.61L589.39 432.53L590.74 432.46L592.1 432.38L593.46 432.31L594.82 432.23L596.17 432.16L597.53 432.09L598.89 432.01L600.25 431.94L601.61 431.87L602.96 431.8L604.32 431.73L605.68 431.65L607.04 431.58L608.4 431.51L609.75 431.44L611.11 431.37L612.47 431.3L613.83 431.24L615.18 431.17L616.54 431.1L617.9 431.03L619.26 430.96L620.62 430.9L621.97 430.83L623.33 430.76L624.69 430.7L626.05 430.63L627.41 430.57L628.76 430.5L630.12 430.44L631.48 430.38L632.84 430.31L634.19 430.25L635.55 430.19L636.91 430.13L638.27 430.07L639.63 430.01L640.98 429.95L642.34 429.89L643.7 429.83L645.06 429.77L646.42 429.71L647.77 429.65L649.13 429.6L650.49 429.54L651.85 429.48L653.2 429.43L654.56 429.37L655.92 429.32L657.28 429.27L658.64 429.21L659.99 429.16L661.35 429.11L662.71 429.06" fill="none" stroke="#000" stroke-width="2.25" stroke-dasharray="3.7 6.05"/>
<g fill="#000"><circle cx="120.92" cy="480.54" r="5.2"/><circle cx="126.4" cy="477.56" r="5.2"/><circle cx="170.18" cy="468.48" r="5.2"/><circle cx="224.9" cy="461.03" r="5.2"/><circle cx="334.35" cy="450.46" r="5.2"/><circle cx="443.81" cy="442.33" r="5.2"/><circle cx="553.26" cy="434.61" r="5.2"/><circle cx="662.71" cy="429.06" r="5.2"/></g>
<path d="M120.92 484.34L122.28 483.95L123.64 483.58L125 483.25L126.35 482.99L127.71 482.76L129.07 482.54L130.43 482.33L131.79 482.11L133.14 481.9L134.5 481.69L135.86 481.49L137.22 481.29L138.57 481.09L139.93 480.89L141.29 480.7L142.65 480.51L144.01 480.32L145.36 480.13L146.72 479.95L148.08 479.76L149.44 479.58L150.8 479.4L152.15 479.23L153.51 479.05L154.87 478.88L156.23 478.71L157.58 478.54L158.94 478.37L160.3 478.2L161.66 478.04L163.02 477.87L164.37 477.71L165.73 477.55L167.09 477.38L168.45 477.22L169.81 477.06L171.16 476.9L172.52 476.74L173.88 476.58L175.24 476.41L176.59 476.24L177.95 476.08L179.31 475.91L180.67 475.74L182.03 475.57L183.38 475.39L184.74 475.22L186.1 475.05L187.46 474.88L188.82 474.71L190.17 474.54L191.53 474.37L192.89 474.2L194.25 474.04L195.61 473.87L196.96 473.71L198.32 473.55L199.68 473.39L201.04 473.23L202.39 473.08L203.75 472.92L205.11 472.77L206.47 472.63L207.83 472.49L209.18 472.35L210.54 472.21L211.9 472.08L213.26 471.95L214.62 471.83L215.97 471.71L217.33 471.6L218.69 471.49L220.05 471.38L221.4 471.28L222.76 471.19L224.12 471.11L225.48 471.02L226.84 470.94L228.19 470.87L229.55 470.79L230.91 470.71L232.27 470.63L233.63 470.56L234.98 470.49L236.34 470.41L237.7 470.34L239.06 470.27L240.41 470.2L241.77 470.13L243.13 470.06L244.49 469.99L245.85 469.92L247.2 469.86L248.56 469.79L249.92 469.72L251.28 469.66L252.64 469.59L253.99 469.53L255.35 469.47L256.71 469.4L258.07 469.34L259.42 469.28L260.78 469.22L262.14 469.16L263.5 469.1L264.86 469.04L266.21 468.98L267.57 468.92L268.93 468.86L270.29 468.81L271.65 468.75L273 468.69L274.36 468.63L275.72 468.58L277.08 468.52L278.43 468.47L279.79 468.41L281.15 468.36L282.51 468.3L283.87 468.24L285.22 468.19L286.58 468.14L287.94 468.08L289.3 468.03L290.66 467.97L292.01 467.92L293.37 467.86L294.73 467.81L296.09 467.76L297.44 467.7L298.8 467.65L300.16 467.6L301.52 467.54L302.88 467.49L304.23 467.43L305.59 467.38L306.95 467.33L308.31 467.27L309.67 467.22L311.02 467.16L312.38 467.11L313.74 467.05L315.1 467L316.45 466.94L317.81 466.89L319.17 466.83L320.53 466.77L321.89 466.72L323.24 466.66L324.6 466.6L325.96 466.55L327.32 466.49L328.68 466.43L330.03 466.37L331.39 466.31L332.75 466.25L334.11 466.19L335.46 466.13L336.82 466.07L338.18 466.01L339.54 465.95L340.9 465.89L342.25 465.83L343.61 465.76L344.97 465.7L346.33 465.64L347.69 465.58L349.04 465.52L350.4 465.45L351.76 465.39L353.12 465.33L354.47 465.27L355.83 465.2L357.19 465.14L358.55 465.08L359.91 465.02L361.26 464.95L362.62 464.89L363.98 464.83L365.34 464.77L366.7 464.7L368.05 464.64L369.41 464.58L370.77 464.51L372.13 464.45L373.48 464.39L374.84 464.32L376.2 464.26L377.56 464.2L378.92 464.14L380.27 464.07L381.63 464.01L382.99 463.95L384.35 463.88L385.71 463.82L387.06 463.76L388.42 463.7L389.78 463.63L391.14 463.57L392.5 463.51L393.85 463.45L395.21 463.39L396.57 463.32L397.93 463.26L399.28 463.2L400.64 463.14L402 463.08L403.36 463.02L404.72 462.96L406.07 462.9L407.43 462.83L408.79 462.77L410.15 462.71L411.51 462.65L412.86 462.59L414.22 462.53L415.58 462.48L416.94 462.42L418.29 462.36L419.65 462.3L421.01 462.24L422.37 462.18L423.73 462.12L425.08 462.07L426.44 462.01L427.8 461.95L429.16 461.9L430.52 461.84L431.87 461.78L433.23 461.73L434.59 461.67L435.95 461.62L437.3 461.56L438.66 461.51L440.02 461.45L441.38 461.4L442.74 461.34L444.09 461.29L445.45 461.24L446.81 461.19L448.17 461.13L449.53 461.08L450.88 461.03L452.24 460.98L453.6 460.93L454.96 460.88L456.31 460.82L457.67 460.77L459.03 460.72L460.39 460.67L461.75 460.62L463.1 460.57L464.46 460.52L465.82 460.47L467.18 460.42L468.54 460.37L469.89 460.32L471.25 460.28L472.61 460.23L473.97 460.18L475.32 460.13L476.68 460.08L478.04 460.03L479.4 459.99L480.76 459.94L482.11 459.89L483.47 459.84L484.83 459.8L486.19 459.75L487.55 459.7L488.9 459.65L490.26 459.61L491.62 459.56L492.98 459.51L494.33 459.47L495.69 459.42L497.05 459.38L498.41 459.33L499.77 459.28L501.12 459.24L502.48 459.19L503.84 459.15L505.2 459.1L506.56 459.05L507.91 459.01L509.27 458.96L510.63 458.92L511.99 458.87L513.34 458.83L514.7 458.78L516.06 458.74L517.42 458.69L518.78 458.65L520.13 458.6L521.49 458.56L522.85 458.51L524.21 458.47L525.57 458.42L526.92 458.38L528.28 458.33L529.64 458.29L531 458.24L532.35 458.2L533.71 458.15L535.07 458.11L536.43 458.06L537.79 458.02L539.14 457.98L540.5 457.93L541.86 457.89L543.22 457.84L544.58 457.8L545.93 457.75L547.29 457.71L548.65 457.66L550.01 457.62L551.36 457.57L552.72 457.53L554.08 457.48L555.44 457.44L556.8 457.39L558.15 457.35L559.51 457.3L560.87 457.26L562.23 457.21L563.59 457.17L564.94 457.12L566.3 457.08L567.66 457.03L569.02 456.99L570.37 456.94L571.73 456.9L573.09 456.85L574.45 456.81L575.81 456.76L577.16 456.72L578.52 456.68L579.88 456.63L581.24 456.59L582.6 456.54L583.95 456.5L585.31 456.45L586.67 456.41L588.03 456.36L589.39 456.32L590.74 456.28L592.1 456.23L593.46 456.19L594.82 456.14L596.17 456.1L597.53 456.05L598.89 456.01L600.25 455.97L601.61 455.92L602.96 455.88L604.32 455.83L605.68 455.79L607.04 455.75L608.4 455.7L609.75 455.66L611.11 455.62L612.47 455.57L613.83 455.53L615.18 455.48L616.54 455.44L617.9 455.4L619.26 455.35L620.62 455.31L621.97 455.27L623.33 455.22L624.69 455.18L626.05 455.14L627.41 455.09L628.76 455.05L630.12 455.01L631.48 454.96L632.84 454.92L634.19 454.88L635.55 454.84L636.91 454.79L638.27 454.75L639.63 454.71L640.98 454.66L642.34 454.62L643.7 454.58L645.06 454.54L646.42 454.49L647.77 454.45L649.13 454.41L650.49 454.37L651.85 454.32L653.2 454.28L654.56 454.24L655.92 454.2L657.28 454.15L658.64 454.11L659.99 454.07L661.35 454.03L662.71 453.99" fill="none" stroke="#000" stroke-width="2.25" stroke-dasharray="3.7 6.05"/>
<g fill="#000"><path d="M120.92 479.14L125.27 487.19H116.57Z" stroke="#000" stroke-width="2" stroke-linejoin="round"/><path d="M126.4 477.78L130.75 485.83H122.05Z" stroke="#000" stroke-width="2" stroke-linejoin="round"/><path d="M170.18 471.82L174.53 479.87H165.83Z" stroke="#000" stroke-width="2" stroke-linejoin="round"/><path d="M224.9 465.86L229.25 473.91H220.55Z" stroke="#000" stroke-width="2" stroke-linejoin="round"/><path d="M334.35 460.98L338.7 469.03H330Z" stroke="#000" stroke-width="2" stroke-linejoin="round"/><path d="M443.81 456.1L448.16 464.15H439.46Z" stroke="#000" stroke-width="2" stroke-linejoin="round"/><path d="M553.26 452.31L557.61 460.36H548.91Z" stroke="#000" stroke-width="2" stroke-linejoin="round"/><path d="M662.71 448.79L667.06 456.84H658.36Z" stroke="#000" stroke-width="2" stroke-linejoin="round"/></g>
<path d="M120.92 487.59L122.28 487.45L123.64 487.31L125 487.18L126.35 487.05L127.71 486.92L129.07 486.79L130.43 486.65L131.79 486.52L133.14 486.39L134.5 486.25L135.86 486.12L137.22 485.98L138.57 485.85L139.93 485.71L141.29 485.58L142.65 485.44L144.01 485.31L145.36 485.18L146.72 485.04L148.08 484.91L149.44 484.78L150.8 484.65L152.15 484.52L153.51 484.39L154.87 484.27L156.23 484.14L157.58 484.02L158.94 483.9L160.3 483.78L161.66 483.66L163.02 483.55L164.37 483.43L165.73 483.32L167.09 483.22L168.45 483.11L169.81 483.01L171.16 482.91L172.52 482.81L173.88 482.71L175.24 482.61L176.59 482.51L177.95 482.41L179.31 482.31L180.67 482.21L182.03 482.12L183.38 482.02L184.74 481.92L186.1 481.83L187.46 481.73L188.82 481.64L190.17 481.55L191.53 481.46L192.89 481.37L194.25 481.28L195.61 481.19L196.96 481.1L198.32 481.02L199.68 480.94L201.04 480.85L202.39 480.77L203.75 480.69L205.11 480.62L206.47 480.54L207.83 480.47L209.18 480.4L210.54 480.33L211.9 480.26L213.26 480.19L214.62 480.13L215.97 480.07L217.33 480.01L218.69 479.95L220.05 479.9L221.4 479.85L222.76 479.8L224.12 479.75L225.48 479.71L226.84 479.67L228.19 479.62L229.55 479.58L230.91 479.54L232.27 479.5L233.63 479.46L234.98 479.41L236.34 479.37L237.7 479.33L239.06 479.29L240.41 479.25L241.77 479.21L243.13 479.17L244.49 479.13L245.85 479.09L247.2 479.05L248.56 479.02L249.92 478.98L251.28 478.94L252.64 478.9L253.99 478.86L255.35 478.83L256.71 478.79L258.07 478.75L259.42 478.71L260.78 478.68L262.14 478.64L263.5 478.61L264.86 478.57L266.21 478.53L267.57 478.5L268.93 478.46L270.29 478.43L271.65 478.39L273 478.36L274.36 478.33L275.72 478.29L277.08 478.26L278.43 478.22L279.79 478.19L281.15 478.16L282.51 478.12L283.87 478.09L285.22 478.06L286.58 478.03L287.94 478L289.3 477.96L290.66 477.93L292.01 477.9L293.37 477.87L294.73 477.84L296.09 477.81L297.44 477.78L298.8 477.75L300.16 477.72L301.52 477.69L302.88 477.66L304.23 477.63L305.59 477.6L306.95 477.57L308.31 477.54L309.67 477.51L311.02 477.48L312.38 477.45L313.74 477.43L315.1 477.4L316.45 477.37L317.81 477.34L319.17 477.32L320.53 477.29L321.89 477.26L323.24 477.23L324.6 477.21L325.96 477.18L327.32 477.15L328.68 477.13L330.03 477.1L331.39 477.08L332.75 477.05L334.11 477.02L335.46 477L336.82 476.97L338.18 476.95L339.54 476.92L340.9 476.9L342.25 476.87L343.61 476.85L344.97 476.82L346.33 476.8L347.69 476.77L349.04 476.75L350.4 476.73L351.76 476.7L353.12 476.68L354.47 476.65L355.83 476.63L357.19 476.6L358.55 476.58L359.91 476.56L361.26 476.53L362.62 476.51L363.98 476.49L365.34 476.46L366.7 476.44L368.05 476.42L369.41 476.39L370.77 476.37L372.13 476.35L373.48 476.32L374.84 476.3L376.2 476.28L377.56 476.25L378.92 476.23L380.27 476.21L381.63 476.19L382.99 476.16L384.35 476.14L385.71 476.12L387.06 476.09L388.42 476.07L389.78 476.05L391.14 476.03L392.5 476L393.85 475.98L395.21 475.96L396.57 475.93L397.93 475.91L399.28 475.89L400.64 475.87L402 475.84L403.36 475.82L404.72 475.8L406.07 475.77L407.43 475.75L408.79 475.73L410.15 475.71L411.51 475.68L412.86 475.66L414.22 475.64L415.58 475.61L416.94 475.59L418.29 475.57L419.65 475.54L421.01 475.52L422.37 475.5L423.73 475.48L425.08 475.45L426.44 475.43L427.8 475.4L429.16 475.38L430.52 475.36L431.87 475.33L433.23 475.31L434.59 475.29L435.95 475.26L437.3 475.24L438.66 475.21L440.02 475.19L441.38 475.17L442.74 475.14L444.09 475.12L445.45 475.09L446.81 475.07L448.17 475.04L449.53 475.02L450.88 474.99L452.24 474.97L453.6 474.95L454.96 474.92L456.31 474.9L457.67 474.87L459.03 474.85L460.39 474.82L461.75 474.8L463.1 474.77L464.46 474.75L465.82 474.73L467.18 474.7L468.54 474.68L469.89 474.65L471.25 474.63L472.61 474.6L473.97 474.58L475.32 474.55L476.68 474.53L478.04 474.5L479.4 474.48L480.76 474.45L482.11 474.43L483.47 474.4L484.83 474.38L486.19 474.35L487.55 474.33L488.9 474.31L490.26 474.28L491.62 474.26L492.98 474.23L494.33 474.21L495.69 474.18L497.05 474.16L498.41 474.13L499.77 474.11L501.12 474.08L502.48 474.06L503.84 474.03L505.2 474.01L506.56 473.98L507.91 473.95L509.27 473.93L510.63 473.9L511.99 473.88L513.34 473.85L514.7 473.83L516.06 473.8L517.42 473.78L518.78 473.75L520.13 473.73L521.49 473.7L522.85 473.68L524.21 473.65L525.57 473.62L526.92 473.6L528.28 473.57L529.64 473.55L531 473.52L532.35 473.49L533.71 473.47L535.07 473.44L536.43 473.42L537.79 473.39L539.14 473.36L540.5 473.34L541.86 473.31L543.22 473.29L544.58 473.26L545.93 473.23L547.29 473.21L548.65 473.18L550.01 473.15L551.36 473.13L552.72 473.1L554.08 473.07L555.44 473.05L556.8 473.02L558.15 472.99L559.51 472.97L560.87 472.94L562.23 472.91L563.59 472.89L564.94 472.86L566.3 472.83L567.66 472.8L569.02 472.78L570.37 472.75L571.73 472.72L573.09 472.69L574.45 472.67L575.81 472.64L577.16 472.61L578.52 472.58L579.88 472.56L581.24 472.53L582.6 472.5L583.95 472.47L585.31 472.45L586.67 472.42L588.03 472.39L589.39 472.36L590.74 472.33L592.1 472.31L593.46 472.28L594.82 472.25L596.17 472.22L597.53 472.19L598.89 472.16L600.25 472.14L601.61 472.11L602.96 472.08L604.32 472.05L605.68 472.02L607.04 471.99L608.4 471.96L609.75 471.94L611.11 471.91L612.47 471.88L613.83 471.85L615.18 471.82L616.54 471.79L617.9 471.76L619.26 471.73L620.62 471.7L621.97 471.68L623.33 471.65L624.69 471.62L626.05 471.59L627.41 471.56L628.76 471.53L630.12 471.5L631.48 471.47L632.84 471.44L634.19 471.41L635.55 471.38L636.91 471.35L638.27 471.32L639.63 471.29L640.98 471.26L642.34 471.23L643.7 471.21L645.06 471.18L646.42 471.15L647.77 471.12L649.13 471.09L650.49 471.06L651.85 471.03L653.2 471L654.56 470.97L655.92 470.94L657.28 470.91L658.64 470.88L659.99 470.85L661.35 470.82L662.71 470.79" fill="none" stroke="#000" stroke-width="2.25" stroke-dasharray="3.7 6.05"/>
<g fill="#000"><rect x="115.52" y="482.19" width="10.8" height="10.8" rx="1.5" ry="1.5"/><rect x="121" y="481.65" width="10.8" height="10.8" rx="1.5" ry="1.5"/><rect x="164.78" y="477.58" width="10.8" height="10.8" rx="1.5" ry="1.5"/><rect x="219.5" y="474.33" width="10.8" height="10.8" rx="1.5" ry="1.5"/><rect x="328.95" y="471.62" width="10.8" height="10.8" rx="1.5" ry="1.5"/><rect x="438.41" y="469.72" width="10.8" height="10.8" rx="1.5" ry="1.5"/><rect x="547.86" y="467.69" width="10.8" height="10.8" rx="1.5" ry="1.5"/><rect x="657.31" y="465.39" width="10.8" height="10.8" rx="1.5" ry="1.5"/></g>
<path d="M140.75 31.6H200" stroke="#000" stroke-width="2.5"/>
<path d="M140.75 71H196" stroke="#000" stroke-width="2.25" stroke-dasharray="3.7 6.05"/>
<path d="M140.75 109.5H200" stroke="#000" stroke-width="2.5" stroke-dasharray="13 3.3"/>
<g fill="#000">
<text transform="translate(214.48 43.4) scale(0.4425 0.3695)" font-family="Liberation Serif, DejaVu Serif, serif" font-size="100">Δ</text>
<text transform="translate(244.06 49.1) scale(0.2629 0.2286)" font-family="Liberation Serif, DejaVu Serif, serif" font-style="italic" font-size="100" stroke="#000" stroke-width="2.44" stroke-linejoin="round">x</text>
<text transform="translate(266.52 46.19) scale(0.4968 0.3360)" font-family="Liberation Serif, DejaVu Serif, serif" font-size="100">=</text>
<text transform="translate(302.83 43.4) scale(0.4425 0.3695)" font-family="Liberation Serif, DejaVu Serif, serif" font-size="100">Δ</text>
<text transform="translate(214.48 82.3) scale(0.4425 0.3695)" font-family="Liberation Serif, DejaVu Serif, serif" font-size="100">Δ</text>
<text transform="translate(244.06 88) scale(0.2629 0.2286)" font-family="Liberation Serif, DejaVu Serif, serif" font-style="italic" font-size="100" stroke="#000" stroke-width="2.44" stroke-linejoin="round">x</text>
<text transform="translate(266.22 86.62) scale(0.3536 0.4069)" font-family="DejaVu Sans, sans-serif" font-size="100" stroke="#fff" stroke-width="3.68" stroke-linejoin="miter">≪</text>
<text transform="translate(310.93 82.3) scale(0.4425 0.3695)" font-family="Liberation Serif, DejaVu Serif, serif" font-size="100">Δ</text>
<text transform="translate(214.78 121.87) scale(0.3672 0.3784)" font-family="Liberation Serif, DejaVu Serif, serif" font-size="100">Θ</text>
<text transform="translate(242.07 121.87) scale(0.4337 0.3784)" font-family="Liberation Serif, DejaVu Serif, serif" font-style="italic" font-size="100">S</text>
<text transform="translate(260.22 126.6) scale(0.3118 0.2462)" font-family="Liberation Serif, DejaVu Serif, serif" font-style="italic" font-size="100">T</text>
<text transform="translate(275.81 130.25) scale(0.2717 0.1908)" font-family="Liberation Serif, DejaVu Serif, serif" font-size="100">Δ</text>
<text transform="translate(297.05 129.28) scale(0.5236 0.5226)" font-family="Liberation Serif, DejaVu Serif, serif" font-size="100" stroke="#fff" stroke-width="0.76" stroke-linejoin="miter">/</text>
<text transform="translate(313.97 121.87) scale(0.4337 0.3784)" font-family="Liberation Serif, DejaVu Serif, serif" font-style="italic" font-size="100">S</text>
<text transform="translate(334.69 126.6) scale(0.2885 0.2462)" font-family="Liberation Serif, DejaVu Serif, serif" font-style="italic" font-size="100">L</text>
<text transform="translate(353.2 122.04) scale(0.3000 0.4039)" font-family="Liberation Serif, DejaVu Serif, serif" font-size="100">,</text>
<text transform="translate(371.13 121.25) scale(0.4425 0.3695)" font-family="Liberation Serif, DejaVu Serif, serif" font-size="100">Δ</text>
<text transform="translate(400.72 126.95) scale(0.2730 0.2286)" font-family="Liberation Serif, DejaVu Serif, serif" font-style="italic" font-size="100" stroke="#000" stroke-width="2.39" stroke-linejoin="round">x</text>
<text transform="translate(422.92 124.04) scale(0.4968 0.3360)" font-family="Liberation Serif, DejaVu Serif, serif" font-size="100">=</text>
<text transform="translate(459.33 121.25) scale(0.4425 0.3695)" font-family="Liberation Serif, DejaVu Serif, serif" font-size="100">Δ</text>
</g>
<g fill="#000" transform="translate(31.5 306.9) rotate(-90)">
<text transform="translate(-0.84 0.57) scale(0.5389 0.4754)" font-family="Liberation Serif, DejaVu Serif, serif" font-style="italic" font-size="100" stroke="#fff" stroke-width="1.18" stroke-linejoin="miter">S</text>
<text transform="translate(21.51 6) scale(0.3518 0.3077)" font-family="Liberation Serif, DejaVu Serif, serif" font-style="italic" font-size="100">T</text>
<text transform="translate(40.15 10.4) scale(0.2867 0.2290)" font-family="Liberation Serif, DejaVu Serif, serif" font-size="100">Δ</text>
<text transform="translate(63.95 9.81) scale(0.6509 0.6406)" font-family="Liberation Serif, DejaVu Serif, serif" font-size="100" stroke="#fff" stroke-width="1.39" stroke-linejoin="miter">/</text>
<text transform="translate(82.31 0.57) scale(0.5389 0.4754)" font-family="Liberation Serif, DejaVu Serif, serif" font-style="italic" font-size="100" stroke="#fff" stroke-width="1.18" stroke-linejoin="miter">S</text>
<text transform="translate(107.84 6.6) scale(0.3365 0.3169)" font-family="Liberation Serif, DejaVu Serif, serif" font-style="italic" font-size="100">L</text>
</g>
<text x="374.65" y="579.5" textLength="52.6" lengthAdjust="spacingAndGlyphs" font-family="Liberation Serif, DejaVu Serif, serif" font-size="43.4" fill="#000">Ka</text>
<text x="1129.9" y="579.5" textLength="52.6" lengthAdjust="spacingAndGlyphs" font-family="Liberation Serif, DejaVu Serif, serif" font-size="43.4" fill="#000">Ka</text>
<rect x="871.4" y="0.65" width="568.8" height="487.75" fill="none" stroke="#000" stroke-width="2.2"/>
<path d="M926.09 488.4v-4.9M926.09 0.65v4.9M980.78 488.4v-9.4M980.78 0.65v9.4M1035.48 488.4v-4.9M1035.48 0.65v4.9M1090.17 488.4v-9.4M1090.17 0.65v9.4M1144.86 488.4v-4.9M1144.86 0.65v4.9M1199.55 488.4v-9.4M1199.55 0.65v9.4M1254.25 488.4v-4.9M1254.25 0.65v4.9M1308.94 488.4v-9.4M1308.94 0.65v9.4M1363.63 488.4v-4.9M1363.63 0.65v4.9M1418.32 488.4v-9.4M1418.32 0.65v9.4M871.4 431.02h9.4M1440.2 431.02h-9.4M871.4 373.64h9.4M1440.2 373.64h-9.4M871.4 316.25h9.4M1440.2 316.25h-9.4M871.4 258.87h9.4M1440.2 258.87h-9.4M871.4 201.49h9.4M1440.2 201.49h-9.4M871.4 144.11h9.4M1440.2 144.11h-9.4M871.4 86.72h9.4M1440.2 86.72h-9.4M871.4 29.34h9.4M1440.2 29.34h-9.4M871.4 459.71h4.9M1440.2 459.71h-4.9M871.4 402.33h4.9M1440.2 402.33h-4.9M871.4 344.94h4.9M1440.2 344.94h-4.9M871.4 287.56h4.9M1440.2 287.56h-4.9M871.4 230.18h4.9M1440.2 230.18h-4.9M871.4 172.8h4.9M1440.2 172.8h-4.9M871.4 115.41h4.9M1440.2 115.41h-4.9M871.4 58.03h4.9M1440.2 58.03h-4.9" fill="none" stroke="#000" stroke-width="2.2"/>
<g font-family="Liberation Serif, DejaVu Serif, serif" font-size="35.0" fill="#000">
<text transform="translate(871.6 531.5) scale(0.97 1)" text-anchor="middle">0</text>
<text transform="translate(980.98 531.5) scale(0.97 1)" text-anchor="middle">10</text>
<text transform="translate(1090.37 531.5) scale(0.97 1)" text-anchor="middle">20</text>
<text transform="translate(1199.75 531.5) scale(0.97 1)" text-anchor="middle">30</text>
<text transform="translate(1309.14 531.5) scale(0.97 1)" text-anchor="middle">40</text>
<text transform="translate(1418.52 531.5) scale(0.97 1)" text-anchor="middle">50</text>
<text transform="translate(850.8 500.6) scale(0.955 1)" text-anchor="end">0</text>
<text transform="translate(850.8 443.22) scale(0.955 1)" text-anchor="end">2</text>
<text transform="translate(850.8 385.84) scale(0.955 1)" text-anchor="end">4</text>
<text transform="translate(850.8 328.45) scale(0.955 1)" text-anchor="end">6</text>
<text transform="translate(850.8 271.07) scale(0.955 1)" text-anchor="end">8</text>
<text transform="translate(850.8 213.69) scale(0.955 1)" text-anchor="end">10</text>
<text transform="translate(850.8 156.31) scale(0.955 1)" text-anchor="end">12</text>
<text transform="translate(850.8 98.92) scale(0.955 1)" text-anchor="end">14</text>
<text transform="translate(850.8 41.54) scale(0.955 1)" text-anchor="end">16</text>
</g>
<path d="M876.87 219.28L878.23 217.7L879.58 216.2L880.94 214.92L882.3 213.99L883.65 213.29L885.01 212.61L886.37 211.95L887.73 211.3L889.08 210.66L890.44 210.03L891.8 209.42L893.15 208.81L894.51 208.22L895.87 207.64L897.22 207.06L898.58 206.5L899.94 205.94L901.3 205.39L902.65 204.85L904.01 204.32L905.37 203.79L906.72 203.27L908.08 202.75L909.44 202.24L910.79 201.72L912.15 201.22L913.51 200.71L914.87 200.21L916.22 199.71L917.58 199.21L918.94 198.7L920.29 198.2L921.65 197.7L923.01 197.19L924.37 196.69L925.72 196.18L927.08 195.66L928.44 195.15L929.79 194.63L931.15 194.11L932.51 193.59L933.86 193.06L935.22 192.54L936.58 192.01L937.94 191.48L939.29 190.96L940.65 190.43L942.01 189.9L943.36 189.37L944.72 188.84L946.08 188.32L947.43 187.79L948.79 187.27L950.15 186.75L951.51 186.23L952.86 185.71L954.22 185.19L955.58 184.68L956.93 184.17L958.29 183.66L959.65 183.16L961 182.66L962.36 182.16L963.72 181.67L965.08 181.18L966.43 180.7L967.79 180.22L969.15 179.75L970.5 179.28L971.86 178.82L973.22 178.37L974.58 177.92L975.93 177.48L977.29 177.04L978.65 176.61L980 176.19L981.36 175.78L982.72 175.37L984.07 174.96L985.43 174.55L986.79 174.15L988.15 173.75L989.5 173.35L990.86 172.95L992.22 172.56L993.57 172.16L994.93 171.77L996.29 171.38L997.64 170.99L999 170.61L1000.36 170.22L1001.72 169.84L1003.07 169.46L1004.43 169.08L1005.79 168.71L1007.14 168.33L1008.5 167.96L1009.86 167.59L1011.21 167.21L1012.57 166.85L1013.93 166.48L1015.29 166.11L1016.64 165.75L1018 165.38L1019.36 165.02L1020.71 164.66L1022.07 164.3L1023.43 163.94L1024.79 163.58L1026.14 163.23L1027.5 162.87L1028.86 162.52L1030.21 162.17L1031.57 161.82L1032.93 161.47L1034.28 161.12L1035.64 160.77L1037 160.42L1038.36 160.07L1039.71 159.73L1041.07 159.38L1042.43 159.04L1043.78 158.69L1045.14 158.35L1046.5 158.01L1047.85 157.66L1049.21 157.32L1050.57 156.98L1051.93 156.64L1053.28 156.3L1054.64 155.96L1056 155.62L1057.35 155.28L1058.71 154.95L1060.07 154.61L1061.42 154.27L1062.78 153.93L1064.14 153.6L1065.5 153.26L1066.85 152.92L1068.21 152.58L1069.57 152.25L1070.92 151.91L1072.28 151.57L1073.64 151.24L1075 150.9L1076.35 150.56L1077.71 150.23L1079.07 149.89L1080.42 149.55L1081.78 149.21L1083.14 148.88L1084.49 148.54L1085.85 148.2L1087.21 147.86L1088.57 147.52L1089.92 147.18L1091.28 146.84L1092.64 146.5L1093.99 146.16L1095.35 145.82L1096.71 145.49L1098.06 145.15L1099.42 144.82L1100.78 144.48L1102.14 144.15L1103.49 143.81L1104.85 143.48L1106.21 143.15L1107.56 142.82L1108.92 142.48L1110.28 142.15L1111.63 141.82L1112.99 141.49L1114.35 141.16L1115.71 140.83L1117.06 140.51L1118.42 140.18L1119.78 139.85L1121.13 139.52L1122.49 139.2L1123.85 138.87L1125.21 138.54L1126.56 138.22L1127.92 137.89L1129.28 137.56L1130.63 137.24L1131.99 136.91L1133.35 136.59L1134.7 136.26L1136.06 135.94L1137.42 135.62L1138.78 135.29L1140.13 134.97L1141.49 134.64L1142.85 134.32L1144.2 133.99L1145.56 133.67L1146.92 133.35L1148.27 133.02L1149.63 132.7L1150.99 132.37L1152.35 132.05L1153.7 131.73L1155.06 131.4L1156.42 131.08L1157.77 130.75L1159.13 130.43L1160.49 130.1L1161.84 129.78L1163.2 129.45L1164.56 129.13L1165.92 128.8L1167.27 128.47L1168.63 128.15L1169.99 127.82L1171.34 127.49L1172.7 127.17L1174.06 126.84L1175.42 126.51L1176.77 126.18L1178.13 125.85L1179.49 125.52L1180.84 125.19L1182.2 124.86L1183.56 124.53L1184.91 124.2L1186.27 123.87L1187.63 123.53L1188.99 123.2L1190.34 122.86L1191.7 122.53L1193.06 122.19L1194.41 121.86L1195.77 121.52L1197.13 121.18L1198.48 120.85L1199.84 120.51L1201.2 120.17L1202.56 119.83L1203.91 119.49L1205.27 119.15L1206.63 118.81L1207.98 118.47L1209.34 118.12L1210.7 117.78L1212.05 117.44L1213.41 117.1L1214.77 116.75L1216.13 116.41L1217.48 116.07L1218.84 115.72L1220.2 115.38L1221.55 115.04L1222.91 114.69L1224.27 114.35L1225.63 114L1226.98 113.65L1228.34 113.31L1229.7 112.96L1231.05 112.62L1232.41 112.27L1233.77 111.92L1235.12 111.58L1236.48 111.23L1237.84 110.88L1239.2 110.53L1240.55 110.19L1241.91 109.84L1243.27 109.49L1244.62 109.14L1245.98 108.79L1247.34 108.44L1248.69 108.09L1250.05 107.74L1251.41 107.39L1252.77 107.04L1254.12 106.69L1255.48 106.34L1256.84 105.99L1258.19 105.64L1259.55 105.29L1260.91 104.94L1262.26 104.59L1263.62 104.24L1264.98 103.89L1266.34 103.54L1267.69 103.18L1269.05 102.83L1270.41 102.48L1271.76 102.13L1273.12 101.78L1274.48 101.42L1275.84 101.07L1277.19 100.72L1278.55 100.37L1279.91 100.02L1281.26 99.66L1282.62 99.31L1283.98 98.96L1285.33 98.6L1286.69 98.25L1288.05 97.9L1289.41 97.55L1290.76 97.19L1292.12 96.84L1293.48 96.49L1294.83 96.13L1296.19 95.78L1297.55 95.43L1298.9 95.07L1300.26 94.72L1301.62 94.37L1302.98 94.01L1304.33 93.66L1305.69 93.31L1307.05 92.95L1308.4 92.6L1309.76 92.25L1311.12 91.89L1312.47 91.54L1313.83 91.19L1315.19 90.83L1316.55 90.48L1317.9 90.13L1319.26 89.77L1320.62 89.42L1321.97 89.06L1323.33 88.71L1324.69 88.35L1326.05 88L1327.4 87.65L1328.76 87.29L1330.12 86.94L1331.47 86.58L1332.83 86.23L1334.19 85.87L1335.54 85.51L1336.9 85.16L1338.26 84.8L1339.62 84.45L1340.97 84.09L1342.33 83.74L1343.69 83.38L1345.04 83.02L1346.4 82.67L1347.76 82.31L1349.11 81.95L1350.47 81.6L1351.83 81.24L1353.19 80.88L1354.54 80.53L1355.9 80.17L1357.26 79.81L1358.61 79.46L1359.97 79.1L1361.33 78.74L1362.68 78.38L1364.04 78.03L1365.4 77.67L1366.76 77.31L1368.11 76.95L1369.47 76.59L1370.83 76.23L1372.18 75.88L1373.54 75.52L1374.9 75.16L1376.26 74.8L1377.61 74.44L1378.97 74.08L1380.33 73.72L1381.68 73.36L1383.04 73.01L1384.4 72.65L1385.75 72.29L1387.11 71.93L1388.47 71.57L1389.83 71.21L1391.18 70.85L1392.54 70.49L1393.9 70.13L1395.25 69.77L1396.61 69.41L1397.97 69.05L1399.32 68.69L1400.68 68.33L1402.04 67.96L1403.4 67.6L1404.75 67.24L1406.11 66.88L1407.47 66.52L1408.82 66.16L1410.18 65.8L1411.54 65.44L1412.89 65.07L1414.25 64.71L1415.61 64.35L1416.97 63.99L1418.32 63.63" fill="none" stroke="#000" stroke-width="2.5"/>
<g fill="#000"><circle cx="876.87" cy="219.28" r="5.2"/><circle cx="882.34" cy="213.97" r="5.2"/><circle cx="926.09" cy="196.04" r="5.2"/><circle cx="980.78" cy="175.95" r="5.2"/><circle cx="1090.17" cy="147.12" r="5.2"/><circle cx="1199.55" cy="120.58" r="5.2"/><circle cx="1308.94" cy="92.46" r="5.2"/><circle cx="1418.32" cy="63.63" r="5.2"/></g>
<path d="M876.87 348.82L878.23 347.6L879.58 346.44L880.94 345.44L882.3 344.68L883.65 344.08L885.01 343.49L886.37 342.91L887.73 342.34L889.08 341.78L890.44 341.23L891.8 340.69L893.15 340.15L894.51 339.63L895.87 339.11L897.22 338.6L898.58 338.1L899.94 337.61L901.3 337.12L902.65 336.64L904.01 336.17L905.37 335.7L906.72 335.24L908.08 334.78L909.44 334.33L910.79 333.89L912.15 333.45L913.51 333.01L914.87 332.58L916.22 332.15L917.58 331.73L918.94 331.31L920.29 330.9L921.65 330.49L923.01 330.08L924.37 329.68L925.72 329.27L927.08 328.87L928.44 328.47L929.79 328.08L931.15 327.68L932.51 327.29L933.86 326.9L935.22 326.51L936.58 326.12L937.94 325.73L939.29 325.35L940.65 324.96L942.01 324.58L943.36 324.2L944.72 323.82L946.08 323.44L947.43 323.06L948.79 322.69L950.15 322.31L951.51 321.94L952.86 321.56L954.22 321.19L955.58 320.82L956.93 320.44L958.29 320.07L959.65 319.7L961 319.33L962.36 318.96L963.72 318.59L965.08 318.22L966.43 317.85L967.79 317.49L969.15 317.12L970.5 316.75L971.86 316.38L973.22 316.01L974.58 315.64L975.93 315.28L977.29 314.91L978.65 314.54L980 314.17L981.36 313.8L982.72 313.43L984.07 313.06L985.43 312.68L986.79 312.31L988.15 311.93L989.5 311.56L990.86 311.18L992.22 310.8L993.57 310.42L994.93 310.03L996.29 309.65L997.64 309.27L999 308.89L1000.36 308.5L1001.72 308.11L1003.07 307.73L1004.43 307.34L1005.79 306.96L1007.14 306.57L1008.5 306.18L1009.86 305.79L1011.21 305.4L1012.57 305.02L1013.93 304.63L1015.29 304.24L1016.64 303.85L1018 303.46L1019.36 303.08L1020.71 302.69L1022.07 302.3L1023.43 301.91L1024.79 301.53L1026.14 301.14L1027.5 300.76L1028.86 300.37L1030.21 299.99L1031.57 299.6L1032.93 299.22L1034.28 298.84L1035.64 298.46L1037 298.08L1038.36 297.7L1039.71 297.32L1041.07 296.95L1042.43 296.57L1043.78 296.2L1045.14 295.83L1046.5 295.46L1047.85 295.09L1049.21 294.72L1050.57 294.35L1051.93 293.99L1053.28 293.63L1054.64 293.27L1056 292.91L1057.35 292.55L1058.71 292.2L1060.07 291.84L1061.42 291.49L1062.78 291.15L1064.14 290.8L1065.5 290.46L1066.85 290.11L1068.21 289.78L1069.57 289.44L1070.92 289.11L1072.28 288.78L1073.64 288.45L1075 288.12L1076.35 287.8L1077.71 287.48L1079.07 287.16L1080.42 286.85L1081.78 286.54L1083.14 286.23L1084.49 285.93L1085.85 285.63L1087.21 285.33L1088.57 285.04L1089.92 284.75L1091.28 284.46L1092.64 284.17L1093.99 283.89L1095.35 283.6L1096.71 283.32L1098.06 283.04L1099.42 282.77L1100.78 282.49L1102.14 282.22L1103.49 281.94L1104.85 281.67L1106.21 281.4L1107.56 281.13L1108.92 280.86L1110.28 280.6L1111.63 280.33L1112.99 280.07L1114.35 279.81L1115.71 279.55L1117.06 279.29L1118.42 279.03L1119.78 278.78L1121.13 278.52L1122.49 278.27L1123.85 278.02L1125.21 277.77L1126.56 277.52L1127.92 277.27L1129.28 277.02L1130.63 276.78L1131.99 276.53L1133.35 276.29L1134.7 276.05L1136.06 275.81L1137.42 275.57L1138.78 275.33L1140.13 275.09L1141.49 274.86L1142.85 274.62L1144.2 274.39L1145.56 274.15L1146.92 273.92L1148.27 273.69L1149.63 273.46L1150.99 273.23L1152.35 273.01L1153.7 272.78L1155.06 272.55L1156.42 272.33L1157.77 272.1L1159.13 271.88L1160.49 271.66L1161.84 271.44L1163.2 271.22L1164.56 271L1165.92 270.78L1167.27 270.56L1168.63 270.35L1169.99 270.13L1171.34 269.92L1172.7 269.7L1174.06 269.49L1175.42 269.28L1176.77 269.07L1178.13 268.86L1179.49 268.65L1180.84 268.44L1182.2 268.23L1183.56 268.02L1184.91 267.81L1186.27 267.6L1187.63 267.4L1188.99 267.19L1190.34 266.99L1191.7 266.78L1193.06 266.58L1194.41 266.38L1195.77 266.17L1197.13 265.97L1198.48 265.77L1199.84 265.57L1201.2 265.37L1202.56 265.17L1203.91 264.97L1205.27 264.77L1206.63 264.57L1207.98 264.37L1209.34 264.17L1210.7 263.97L1212.05 263.77L1213.41 263.57L1214.77 263.37L1216.13 263.17L1217.48 262.98L1218.84 262.78L1220.2 262.58L1221.55 262.38L1222.91 262.19L1224.27 261.99L1225.63 261.79L1226.98 261.6L1228.34 261.4L1229.7 261.2L1231.05 261.01L1232.41 260.82L1233.77 260.62L1235.12 260.43L1236.48 260.23L1237.84 260.04L1239.2 259.85L1240.55 259.66L1241.91 259.46L1243.27 259.27L1244.62 259.08L1245.98 258.89L1247.34 258.7L1248.69 258.51L1250.05 258.33L1251.41 258.14L1252.77 257.95L1254.12 257.76L1255.48 257.58L1256.84 257.39L1258.19 257.21L1259.55 257.02L1260.91 256.84L1262.26 256.66L1263.62 256.47L1264.98 256.29L1266.34 256.11L1267.69 255.93L1269.05 255.75L1270.41 255.57L1271.76 255.39L1273.12 255.22L1274.48 255.04L1275.84 254.86L1277.19 254.69L1278.55 254.51L1279.91 254.34L1281.26 254.17L1282.62 254L1283.98 253.82L1285.33 253.65L1286.69 253.48L1288.05 253.32L1289.41 253.15L1290.76 252.98L1292.12 252.82L1293.48 252.65L1294.83 252.49L1296.19 252.32L1297.55 252.16L1298.9 252L1300.26 251.84L1301.62 251.68L1302.98 251.52L1304.33 251.36L1305.69 251.21L1307.05 251.05L1308.4 250.9L1309.76 250.74L1311.12 250.59L1312.47 250.44L1313.83 250.28L1315.19 250.13L1316.55 249.98L1317.9 249.83L1319.26 249.67L1320.62 249.52L1321.97 249.37L1323.33 249.22L1324.69 249.07L1326.05 248.92L1327.4 248.77L1328.76 248.62L1330.12 248.47L1331.47 248.32L1332.83 248.17L1334.19 248.02L1335.54 247.87L1336.9 247.72L1338.26 247.57L1339.62 247.42L1340.97 247.28L1342.33 247.13L1343.69 246.98L1345.04 246.84L1346.4 246.69L1347.76 246.55L1349.11 246.4L1350.47 246.26L1351.83 246.11L1353.19 245.97L1354.54 245.83L1355.9 245.69L1357.26 245.55L1358.61 245.4L1359.97 245.26L1361.33 245.12L1362.68 244.98L1364.04 244.85L1365.4 244.71L1366.76 244.57L1368.11 244.43L1369.47 244.3L1370.83 244.16L1372.18 244.03L1373.54 243.89L1374.9 243.76L1376.26 243.63L1377.61 243.5L1378.97 243.36L1380.33 243.23L1381.68 243.1L1383.04 242.98L1384.4 242.85L1385.75 242.72L1387.11 242.59L1388.47 242.47L1389.83 242.34L1391.18 242.22L1392.54 242.1L1393.9 241.97L1395.25 241.85L1396.61 241.73L1397.97 241.61L1399.32 241.49L1400.68 241.37L1402.04 241.26L1403.4 241.14L1404.75 241.03L1406.11 240.91L1407.47 240.8L1408.82 240.69L1410.18 240.58L1411.54 240.47L1412.89 240.36L1414.25 240.25L1415.61 240.14L1416.97 240.04L1418.32 239.93" fill="none" stroke="#000" stroke-width="2.5"/>
<g fill="#000"><path d="M876.87 343.62L881.22 351.67H872.52Z" stroke="#000" stroke-width="2" stroke-linejoin="round"/><path d="M882.34 339.46L886.69 347.51H877.99Z" stroke="#000" stroke-width="2" stroke-linejoin="round"/><path d="M926.09 323.96L930.44 332.01H921.74Z" stroke="#000" stroke-width="2" stroke-linejoin="round"/><path d="M980.78 308.76L985.13 316.81H976.43Z" stroke="#000" stroke-width="2" stroke-linejoin="round"/><path d="M1090.17 279.49L1094.52 287.54H1085.82Z" stroke="#000" stroke-width="2" stroke-linejoin="round"/><path d="M1199.55 260.41L1203.9 268.46H1195.2Z" stroke="#000" stroke-width="2" stroke-linejoin="round"/><path d="M1308.94 245.64L1313.29 253.69H1304.59Z" stroke="#000" stroke-width="2" stroke-linejoin="round"/><path d="M1418.32 234.73L1422.67 242.78H1413.97Z" stroke="#000" stroke-width="2" stroke-linejoin="round"/></g>
<path d="M876.87 422.98L878.23 422.95L879.58 422.83L880.94 422.65L882.3 422.42L883.65 422.15L885.01 421.85L886.37 421.53L887.73 421.17L889.08 420.79L890.44 420.38L891.8 419.96L893.15 419.51L894.51 419.05L895.87 418.57L897.22 418.08L898.58 417.58L899.94 417.06L901.3 416.54L902.65 416.01L904.01 415.48L905.37 414.95L906.72 414.42L908.08 413.89L909.44 413.37L910.79 412.85L912.15 412.34L913.51 411.84L914.87 411.35L916.22 410.88L917.58 410.43L918.94 409.99L920.29 409.57L921.65 409.18L923.01 408.81L924.37 408.46L925.72 408.15L927.08 407.85L928.44 407.57L929.79 407.28L931.15 407L932.51 406.72L933.86 406.45L935.22 406.18L936.58 405.92L937.94 405.66L939.29 405.4L940.65 405.14L942.01 404.89L943.36 404.64L944.72 404.4L946.08 404.16L947.43 403.92L948.79 403.68L950.15 403.45L951.51 403.22L952.86 403L954.22 402.78L955.58 402.56L956.93 402.34L958.29 402.13L959.65 401.92L961 401.71L962.36 401.51L963.72 401.3L965.08 401.11L966.43 400.91L967.79 400.72L969.15 400.53L970.5 400.34L971.86 400.15L973.22 399.97L974.58 399.79L975.93 399.61L977.29 399.44L978.65 399.27L980 399.1L981.36 398.93L982.72 398.76L984.07 398.59L985.43 398.42L986.79 398.25L988.15 398.07L989.5 397.9L990.86 397.73L992.22 397.55L993.57 397.38L994.93 397.2L996.29 397.03L997.64 396.85L999 396.68L1000.36 396.5L1001.72 396.32L1003.07 396.15L1004.43 395.97L1005.79 395.79L1007.14 395.61L1008.5 395.44L1009.86 395.26L1011.21 395.08L1012.57 394.91L1013.93 394.73L1015.29 394.55L1016.64 394.38L1018 394.2L1019.36 394.03L1020.71 393.86L1022.07 393.68L1023.43 393.51L1024.79 393.34L1026.14 393.17L1027.5 393L1028.86 392.83L1030.21 392.66L1031.57 392.49L1032.93 392.33L1034.28 392.16L1035.64 392L1037 391.84L1038.36 391.68L1039.71 391.52L1041.07 391.36L1042.43 391.2L1043.78 391.05L1045.14 390.9L1046.5 390.74L1047.85 390.59L1049.21 390.45L1050.57 390.3L1051.93 390.16L1053.28 390.01L1054.64 389.87L1056 389.74L1057.35 389.6L1058.71 389.47L1060.07 389.34L1061.42 389.21L1062.78 389.08L1064.14 388.95L1065.5 388.83L1066.85 388.71L1068.21 388.6L1069.57 388.48L1070.92 388.37L1072.28 388.26L1073.64 388.16L1075 388.05L1076.35 387.96L1077.71 387.86L1079.07 387.76L1080.42 387.67L1081.78 387.59L1083.14 387.5L1084.49 387.42L1085.85 387.34L1087.21 387.27L1088.57 387.2L1089.92 387.13L1091.28 387.07L1092.64 387L1093.99 386.94L1095.35 386.88L1096.71 386.81L1098.06 386.75L1099.42 386.69L1100.78 386.63L1102.14 386.57L1103.49 386.5L1104.85 386.44L1106.21 386.38L1107.56 386.32L1108.92 386.26L1110.28 386.21L1111.63 386.15L1112.99 386.09L1114.35 386.03L1115.71 385.97L1117.06 385.92L1118.42 385.86L1119.78 385.81L1121.13 385.75L1122.49 385.69L1123.85 385.64L1125.21 385.59L1126.56 385.53L1127.92 385.48L1129.28 385.43L1130.63 385.37L1131.99 385.32L1133.35 385.27L1134.7 385.22L1136.06 385.17L1137.42 385.12L1138.78 385.07L1140.13 385.02L1141.49 384.97L1142.85 384.93L1144.2 384.88L1145.56 384.83L1146.92 384.78L1148.27 384.74L1149.63 384.69L1150.99 384.65L1152.35 384.6L1153.7 384.56L1155.06 384.52L1156.42 384.47L1157.77 384.43L1159.13 384.39L1160.49 384.35L1161.84 384.31L1163.2 384.27L1164.56 384.23L1165.92 384.19L1167.27 384.15L1168.63 384.11L1169.99 384.07L1171.34 384.04L1172.7 384L1174.06 383.96L1175.42 383.93L1176.77 383.89L1178.13 383.86L1179.49 383.82L1180.84 383.79L1182.2 383.76L1183.56 383.73L1184.91 383.69L1186.27 383.66L1187.63 383.63L1188.99 383.6L1190.34 383.57L1191.7 383.54L1193.06 383.52L1194.41 383.49L1195.77 383.46L1197.13 383.44L1198.48 383.41L1199.84 383.38L1201.2 383.36L1202.56 383.33L1203.91 383.31L1205.27 383.28L1206.63 383.26L1207.98 383.23L1209.34 383.21L1210.7 383.18L1212.05 383.15L1213.41 383.13L1214.77 383.1L1216.13 383.07L1217.48 383.05L1218.84 383.02L1220.2 382.99L1221.55 382.97L1222.91 382.94L1224.27 382.91L1225.63 382.89L1226.98 382.86L1228.34 382.84L1229.7 382.81L1231.05 382.78L1232.41 382.76L1233.77 382.73L1235.12 382.7L1236.48 382.68L1237.84 382.65L1239.2 382.62L1240.55 382.6L1241.91 382.57L1243.27 382.55L1244.62 382.52L1245.98 382.5L1247.34 382.47L1248.69 382.45L1250.05 382.42L1251.41 382.4L1252.77 382.37L1254.12 382.35L1255.48 382.32L1256.84 382.3L1258.19 382.28L1259.55 382.25L1260.91 382.23L1262.26 382.21L1263.62 382.18L1264.98 382.16L1266.34 382.14L1267.69 382.12L1269.05 382.1L1270.41 382.08L1271.76 382.06L1273.12 382.04L1274.48 382.02L1275.84 382L1277.19 381.98L1278.55 381.96L1279.91 381.94L1281.26 381.92L1282.62 381.91L1283.98 381.89L1285.33 381.87L1286.69 381.86L1288.05 381.84L1289.41 381.83L1290.76 381.81L1292.12 381.8L1293.48 381.78L1294.83 381.77L1296.19 381.76L1297.55 381.75L1298.9 381.73L1300.26 381.72L1301.62 381.71L1302.98 381.7L1304.33 381.7L1305.69 381.69L1307.05 381.68L1308.4 381.67L1309.76 381.66L1311.12 381.66L1312.47 381.65L1313.83 381.65L1315.19 381.64L1316.55 381.64L1317.9 381.63L1319.26 381.63L1320.62 381.62L1321.97 381.62L1323.33 381.61L1324.69 381.61L1326.05 381.61L1327.4 381.6L1328.76 381.6L1330.12 381.6L1331.47 381.6L1332.83 381.6L1334.19 381.59L1335.54 381.59L1336.9 381.59L1338.26 381.59L1339.62 381.59L1340.97 381.59L1342.33 381.59L1343.69 381.59L1345.04 381.59L1346.4 381.59L1347.76 381.59L1349.11 381.59L1350.47 381.6L1351.83 381.6L1353.19 381.6L1354.54 381.6L1355.9 381.6L1357.26 381.61L1358.61 381.61L1359.97 381.61L1361.33 381.62L1362.68 381.62L1364.04 381.63L1365.4 381.63L1366.76 381.63L1368.11 381.64L1369.47 381.64L1370.83 381.65L1372.18 381.65L1373.54 381.66L1374.9 381.67L1376.26 381.67L1377.61 381.68L1378.97 381.68L1380.33 381.69L1381.68 381.7L1383.04 381.7L1384.4 381.71L1385.75 381.72L1387.11 381.73L1388.47 381.73L1389.83 381.74L1391.18 381.75L1392.54 381.76L1393.9 381.77L1395.25 381.78L1396.61 381.79L1397.97 381.8L1399.32 381.8L1400.68 381.81L1402.04 381.82L1403.4 381.83L1404.75 381.84L1406.11 381.85L1407.47 381.87L1408.82 381.88L1410.18 381.89L1411.54 381.9L1412.89 381.91L1414.25 381.92L1415.61 381.93L1416.97 381.94L1418.32 381.96" fill="none" stroke="#000" stroke-width="2.5"/>
<g fill="#000"><rect x="871.47" y="417.58" width="10.8" height="10.8" rx="1.5" ry="1.5"/><rect x="876.94" y="417.01" width="10.8" height="10.8" rx="1.5" ry="1.5"/><rect x="920.69" y="402.66" width="10.8" height="10.8" rx="1.5" ry="1.5"/><rect x="975.38" y="393.6" width="10.8" height="10.8" rx="1.5" ry="1.5"/><rect x="1084.77" y="381.72" width="10.8" height="10.8" rx="1.5" ry="1.5"/><rect x="1194.15" y="377.99" width="10.8" height="10.8" rx="1.5" ry="1.5"/><rect x="1303.54" y="376.27" width="10.8" height="10.8" rx="1.5" ry="1.5"/><rect x="1412.92" y="376.56" width="10.8" height="10.8" rx="1.5" ry="1.5"/></g>
<path d="M876.87 451.39L878.23 450.44L879.58 449.54L880.94 448.78L882.3 448.24L883.65 447.86L885.01 447.48L886.37 447.11L887.73 446.74L889.08 446.38L890.44 446.03L891.8 445.68L893.15 445.33L894.51 444.99L895.87 444.66L897.22 444.33L898.58 444.01L899.94 443.7L901.3 443.39L902.65 443.08L904.01 442.78L905.37 442.49L906.72 442.2L908.08 441.92L909.44 441.65L910.79 441.38L912.15 441.11L913.51 440.86L914.87 440.61L916.22 440.36L917.58 440.12L918.94 439.89L920.29 439.66L921.65 439.44L923.01 439.23L924.37 439.02L925.72 438.82L927.08 438.62L928.44 438.42L929.79 438.23L931.15 438.03L932.51 437.84L933.86 437.64L935.22 437.44L936.58 437.25L937.94 437.06L939.29 436.86L940.65 436.67L942.01 436.48L943.36 436.29L944.72 436.1L946.08 435.91L947.43 435.72L948.79 435.53L950.15 435.35L951.51 435.16L952.86 434.98L954.22 434.8L955.58 434.62L956.93 434.44L958.29 434.26L959.65 434.09L961 433.91L962.36 433.74L963.72 433.57L965.08 433.4L966.43 433.23L967.79 433.07L969.15 432.9L970.5 432.74L971.86 432.58L973.22 432.42L974.58 432.27L975.93 432.12L977.29 431.97L978.65 431.82L980 431.67L981.36 431.53L982.72 431.39L984.07 431.25L985.43 431.11L986.79 430.96L988.15 430.82L989.5 430.68L990.86 430.54L992.22 430.4L993.57 430.26L994.93 430.12L996.29 429.98L997.64 429.84L999 429.7L1000.36 429.56L1001.72 429.43L1003.07 429.29L1004.43 429.15L1005.79 429.01L1007.14 428.88L1008.5 428.74L1009.86 428.6L1011.21 428.47L1012.57 428.33L1013.93 428.2L1015.29 428.06L1016.64 427.93L1018 427.79L1019.36 427.66L1020.71 427.52L1022.07 427.39L1023.43 427.26L1024.79 427.13L1026.14 426.99L1027.5 426.86L1028.86 426.73L1030.21 426.6L1031.57 426.47L1032.93 426.34L1034.28 426.21L1035.64 426.08L1037 425.95L1038.36 425.82L1039.71 425.69L1041.07 425.57L1042.43 425.44L1043.78 425.31L1045.14 425.19L1046.5 425.06L1047.85 424.93L1049.21 424.81L1050.57 424.68L1051.93 424.56L1053.28 424.44L1054.64 424.31L1056 424.19L1057.35 424.07L1058.71 423.95L1060.07 423.83L1061.42 423.7L1062.78 423.58L1064.14 423.46L1065.5 423.34L1066.85 423.23L1068.21 423.11L1069.57 422.99L1070.92 422.87L1072.28 422.75L1073.64 422.64L1075 422.52L1076.35 422.41L1077.71 422.29L1079.07 422.18L1080.42 422.06L1081.78 421.95L1083.14 421.84L1084.49 421.73L1085.85 421.61L1087.21 421.5L1088.57 421.39L1089.92 421.28L1091.28 421.17L1092.64 421.06L1093.99 420.95L1095.35 420.85L1096.71 420.74L1098.06 420.63L1099.42 420.52L1100.78 420.41L1102.14 420.3L1103.49 420.2L1104.85 420.09L1106.21 419.98L1107.56 419.88L1108.92 419.77L1110.28 419.66L1111.63 419.56L1112.99 419.45L1114.35 419.35L1115.71 419.24L1117.06 419.13L1118.42 419.03L1119.78 418.93L1121.13 418.82L1122.49 418.72L1123.85 418.61L1125.21 418.51L1126.56 418.41L1127.92 418.3L1129.28 418.2L1130.63 418.1L1131.99 417.99L1133.35 417.89L1134.7 417.79L1136.06 417.69L1137.42 417.59L1138.78 417.48L1140.13 417.38L1141.49 417.28L1142.85 417.18L1144.2 417.08L1145.56 416.98L1146.92 416.88L1148.27 416.78L1149.63 416.68L1150.99 416.59L1152.35 416.49L1153.7 416.39L1155.06 416.29L1156.42 416.19L1157.77 416.09L1159.13 416L1160.49 415.9L1161.84 415.8L1163.2 415.71L1164.56 415.61L1165.92 415.51L1167.27 415.42L1168.63 415.32L1169.99 415.23L1171.34 415.13L1172.7 415.04L1174.06 414.95L1175.42 414.85L1176.77 414.76L1178.13 414.66L1179.49 414.57L1180.84 414.48L1182.2 414.39L1183.56 414.29L1184.91 414.2L1186.27 414.11L1187.63 414.02L1188.99 413.93L1190.34 413.84L1191.7 413.75L1193.06 413.66L1194.41 413.57L1195.77 413.48L1197.13 413.39L1198.48 413.3L1199.84 413.21L1201.2 413.12L1202.56 413.03L1203.91 412.95L1205.27 412.86L1206.63 412.77L1207.98 412.68L1209.34 412.6L1210.7 412.51L1212.05 412.42L1213.41 412.34L1214.77 412.25L1216.13 412.16L1217.48 412.08L1218.84 411.99L1220.2 411.91L1221.55 411.82L1222.91 411.74L1224.27 411.65L1225.63 411.57L1226.98 411.48L1228.34 411.4L1229.7 411.31L1231.05 411.23L1232.41 411.15L1233.77 411.06L1235.12 410.98L1236.48 410.9L1237.84 410.81L1239.2 410.73L1240.55 410.65L1241.91 410.57L1243.27 410.48L1244.62 410.4L1245.98 410.32L1247.34 410.24L1248.69 410.15L1250.05 410.07L1251.41 409.99L1252.77 409.91L1254.12 409.83L1255.48 409.75L1256.84 409.67L1258.19 409.58L1259.55 409.5L1260.91 409.42L1262.26 409.34L1263.62 409.26L1264.98 409.18L1266.34 409.1L1267.69 409.02L1269.05 408.94L1270.41 408.86L1271.76 408.78L1273.12 408.7L1274.48 408.62L1275.84 408.54L1277.19 408.46L1278.55 408.39L1279.91 408.31L1281.26 408.23L1282.62 408.15L1283.98 408.07L1285.33 407.99L1286.69 407.91L1288.05 407.83L1289.41 407.75L1290.76 407.68L1292.12 407.6L1293.48 407.52L1294.83 407.44L1296.19 407.36L1297.55 407.28L1298.9 407.21L1300.26 407.13L1301.62 407.05L1302.98 406.97L1304.33 406.89L1305.69 406.82L1307.05 406.74L1308.4 406.66L1309.76 406.58L1311.12 406.51L1312.47 406.43L1313.83 406.35L1315.19 406.27L1316.55 406.2L1317.9 406.12L1319.26 406.04L1320.62 405.96L1321.97 405.89L1323.33 405.81L1324.69 405.73L1326.05 405.65L1327.4 405.58L1328.76 405.5L1330.12 405.42L1331.47 405.35L1332.83 405.27L1334.19 405.19L1335.54 405.12L1336.9 405.04L1338.26 404.96L1339.62 404.89L1340.97 404.81L1342.33 404.74L1343.69 404.66L1345.04 404.58L1346.4 404.51L1347.76 404.43L1349.11 404.36L1350.47 404.28L1351.83 404.2L1353.19 404.13L1354.54 404.05L1355.9 403.98L1357.26 403.9L1358.61 403.83L1359.97 403.75L1361.33 403.68L1362.68 403.6L1364.04 403.53L1365.4 403.45L1366.76 403.38L1368.11 403.3L1369.47 403.23L1370.83 403.15L1372.18 403.08L1373.54 403L1374.9 402.93L1376.26 402.85L1377.61 402.78L1378.97 402.71L1380.33 402.63L1381.68 402.56L1383.04 402.49L1384.4 402.41L1385.75 402.34L1387.11 402.26L1388.47 402.19L1389.83 402.12L1391.18 402.04L1392.54 401.97L1393.9 401.9L1395.25 401.83L1396.61 401.75L1397.97 401.68L1399.32 401.61L1400.68 401.54L1402.04 401.46L1403.4 401.39L1404.75 401.32L1406.11 401.25L1407.47 401.18L1408.82 401.1L1410.18 401.03L1411.54 400.96L1412.89 400.89L1414.25 400.82L1415.61 400.75L1416.97 400.68L1418.32 400.6" fill="none" stroke="#000" stroke-width="2.25" stroke-dasharray="3.7 6.05"/>
<g fill="#000"><circle cx="876.87" cy="451.39" r="5.2"/><circle cx="882.34" cy="448.23" r="5.2"/><circle cx="926.09" cy="438.76" r="5.2"/><circle cx="980.78" cy="431.59" r="5.2"/><circle cx="1090.17" cy="421.26" r="5.2"/><circle cx="1199.55" cy="413.23" r="5.2"/><circle cx="1308.94" cy="406.63" r="5.2"/><circle cx="1418.32" cy="400.6" r="5.2"/></g>
<path d="M876.87 455.41L878.23 454.99L879.58 454.6L880.94 454.26L882.3 453.98L883.65 453.74L885.01 453.51L886.37 453.28L887.73 453.05L889.08 452.83L890.44 452.61L891.8 452.39L893.15 452.18L894.51 451.97L895.87 451.76L897.22 451.55L898.58 451.35L899.94 451.15L901.3 450.95L902.65 450.76L904.01 450.56L905.37 450.37L906.72 450.18L908.08 450L909.44 449.81L910.79 449.63L912.15 449.45L913.51 449.27L914.87 449.09L916.22 448.91L917.58 448.74L918.94 448.56L920.29 448.39L921.65 448.22L923.01 448.04L924.37 447.87L925.72 447.7L927.08 447.53L928.44 447.36L929.79 447.19L931.15 447.01L932.51 446.84L933.86 446.66L935.22 446.48L936.58 446.3L937.94 446.11L939.29 445.93L940.65 445.75L942.01 445.57L943.36 445.39L944.72 445.2L946.08 445.02L947.43 444.84L948.79 444.67L950.15 444.49L951.51 444.31L952.86 444.14L954.22 443.97L955.58 443.8L956.93 443.63L958.29 443.47L959.65 443.3L961 443.15L962.36 442.99L963.72 442.84L965.08 442.69L966.43 442.55L967.79 442.41L969.15 442.28L970.5 442.15L971.86 442.02L973.22 441.9L974.58 441.79L975.93 441.68L977.29 441.58L978.65 441.48L980 441.39L981.36 441.31L982.72 441.23L984.07 441.15L985.43 441.07L986.79 440.99L988.15 440.91L989.5 440.84L990.86 440.76L992.22 440.69L993.57 440.61L994.93 440.54L996.29 440.47L997.64 440.39L999 440.32L1000.36 440.25L1001.72 440.18L1003.07 440.11L1004.43 440.05L1005.79 439.98L1007.14 439.91L1008.5 439.85L1009.86 439.78L1011.21 439.72L1012.57 439.65L1013.93 439.59L1015.29 439.53L1016.64 439.46L1018 439.4L1019.36 439.34L1020.71 439.28L1022.07 439.22L1023.43 439.16L1024.79 439.1L1026.14 439.04L1027.5 438.98L1028.86 438.92L1030.21 438.87L1031.57 438.81L1032.93 438.75L1034.28 438.7L1035.64 438.64L1037 438.58L1038.36 438.53L1039.71 438.47L1041.07 438.42L1042.43 438.36L1043.78 438.31L1045.14 438.25L1046.5 438.2L1047.85 438.15L1049.21 438.09L1050.57 438.04L1051.93 437.99L1053.28 437.93L1054.64 437.88L1056 437.83L1057.35 437.77L1058.71 437.72L1060.07 437.67L1061.42 437.61L1062.78 437.56L1064.14 437.51L1065.5 437.45L1066.85 437.4L1068.21 437.35L1069.57 437.3L1070.92 437.24L1072.28 437.19L1073.64 437.14L1075 437.08L1076.35 437.03L1077.71 436.97L1079.07 436.92L1080.42 436.87L1081.78 436.81L1083.14 436.76L1084.49 436.7L1085.85 436.65L1087.21 436.59L1088.57 436.54L1089.92 436.48L1091.28 436.42L1092.64 436.37L1093.99 436.31L1095.35 436.25L1096.71 436.2L1098.06 436.14L1099.42 436.08L1100.78 436.03L1102.14 435.97L1103.49 435.91L1104.85 435.85L1106.21 435.8L1107.56 435.74L1108.92 435.68L1110.28 435.63L1111.63 435.57L1112.99 435.51L1114.35 435.45L1115.71 435.4L1117.06 435.34L1118.42 435.28L1119.78 435.22L1121.13 435.17L1122.49 435.11L1123.85 435.05L1125.21 435L1126.56 434.94L1127.92 434.88L1129.28 434.82L1130.63 434.77L1131.99 434.71L1133.35 434.65L1134.7 434.6L1136.06 434.54L1137.42 434.48L1138.78 434.42L1140.13 434.37L1141.49 434.31L1142.85 434.25L1144.2 434.2L1145.56 434.14L1146.92 434.09L1148.27 434.03L1149.63 433.97L1150.99 433.92L1152.35 433.86L1153.7 433.81L1155.06 433.75L1156.42 433.69L1157.77 433.64L1159.13 433.58L1160.49 433.53L1161.84 433.47L1163.2 433.42L1164.56 433.36L1165.92 433.31L1167.27 433.25L1168.63 433.2L1169.99 433.15L1171.34 433.09L1172.7 433.04L1174.06 432.99L1175.42 432.93L1176.77 432.88L1178.13 432.83L1179.49 432.77L1180.84 432.72L1182.2 432.67L1183.56 432.62L1184.91 432.57L1186.27 432.51L1187.63 432.46L1188.99 432.41L1190.34 432.36L1191.7 432.31L1193.06 432.26L1194.41 432.21L1195.77 432.16L1197.13 432.11L1198.48 432.06L1199.84 432.01L1201.2 431.96L1202.56 431.91L1203.91 431.87L1205.27 431.82L1206.63 431.77L1207.98 431.72L1209.34 431.67L1210.7 431.63L1212.05 431.58L1213.41 431.53L1214.77 431.48L1216.13 431.44L1217.48 431.39L1218.84 431.34L1220.2 431.3L1221.55 431.25L1222.91 431.21L1224.27 431.16L1225.63 431.11L1226.98 431.07L1228.34 431.02L1229.7 430.98L1231.05 430.93L1232.41 430.89L1233.77 430.84L1235.12 430.8L1236.48 430.75L1237.84 430.71L1239.2 430.66L1240.55 430.62L1241.91 430.57L1243.27 430.53L1244.62 430.48L1245.98 430.44L1247.34 430.4L1248.69 430.35L1250.05 430.31L1251.41 430.26L1252.77 430.22L1254.12 430.18L1255.48 430.13L1256.84 430.09L1258.19 430.05L1259.55 430L1260.91 429.96L1262.26 429.92L1263.62 429.87L1264.98 429.83L1266.34 429.79L1267.69 429.74L1269.05 429.7L1270.41 429.66L1271.76 429.61L1273.12 429.57L1274.48 429.53L1275.84 429.49L1277.19 429.44L1278.55 429.4L1279.91 429.36L1281.26 429.31L1282.62 429.27L1283.98 429.23L1285.33 429.19L1286.69 429.14L1288.05 429.1L1289.41 429.06L1290.76 429.01L1292.12 428.97L1293.48 428.93L1294.83 428.88L1296.19 428.84L1297.55 428.8L1298.9 428.76L1300.26 428.71L1301.62 428.67L1302.98 428.63L1304.33 428.58L1305.69 428.54L1307.05 428.5L1308.4 428.45L1309.76 428.41L1311.12 428.37L1312.47 428.32L1313.83 428.28L1315.19 428.24L1316.55 428.19L1317.9 428.15L1319.26 428.11L1320.62 428.06L1321.97 428.02L1323.33 427.98L1324.69 427.93L1326.05 427.89L1327.4 427.85L1328.76 427.8L1330.12 427.76L1331.47 427.72L1332.83 427.67L1334.19 427.63L1335.54 427.59L1336.9 427.54L1338.26 427.5L1339.62 427.46L1340.97 427.41L1342.33 427.37L1343.69 427.33L1345.04 427.28L1346.4 427.24L1347.76 427.2L1349.11 427.16L1350.47 427.11L1351.83 427.07L1353.19 427.03L1354.54 426.98L1355.9 426.94L1357.26 426.9L1358.61 426.86L1359.97 426.81L1361.33 426.77L1362.68 426.73L1364.04 426.68L1365.4 426.64L1366.76 426.6L1368.11 426.56L1369.47 426.51L1370.83 426.47L1372.18 426.43L1373.54 426.39L1374.9 426.34L1376.26 426.3L1377.61 426.26L1378.97 426.22L1380.33 426.17L1381.68 426.13L1383.04 426.09L1384.4 426.05L1385.75 426L1387.11 425.96L1388.47 425.92L1389.83 425.88L1391.18 425.83L1392.54 425.79L1393.9 425.75L1395.25 425.71L1396.61 425.66L1397.97 425.62L1399.32 425.58L1400.68 425.54L1402.04 425.5L1403.4 425.45L1404.75 425.41L1406.11 425.37L1407.47 425.33L1408.82 425.29L1410.18 425.24L1411.54 425.2L1412.89 425.16L1414.25 425.12L1415.61 425.08L1416.97 425.03L1418.32 424.99" fill="none" stroke="#000" stroke-width="2.25" stroke-dasharray="3.7 6.05"/>
<g fill="#000"><path d="M876.87 450.21L881.22 458.26H872.52Z" stroke="#000" stroke-width="2" stroke-linejoin="round"/><path d="M882.34 448.77L886.69 456.82H877.99Z" stroke="#000" stroke-width="2" stroke-linejoin="round"/><path d="M926.09 442.46L930.44 450.51H921.74Z" stroke="#000" stroke-width="2" stroke-linejoin="round"/><path d="M980.78 436.15L985.13 444.2H976.43Z" stroke="#000" stroke-width="2" stroke-linejoin="round"/><path d="M1090.17 431.27L1094.52 439.32H1085.82Z" stroke="#000" stroke-width="2" stroke-linejoin="round"/><path d="M1199.55 426.82L1203.9 434.87H1195.2Z" stroke="#000" stroke-width="2" stroke-linejoin="round"/><path d="M1308.94 423.24L1313.29 431.29H1304.59Z" stroke="#000" stroke-width="2" stroke-linejoin="round"/><path d="M1418.32 419.79L1422.67 427.84H1413.97Z" stroke="#000" stroke-width="2" stroke-linejoin="round"/></g>
<path d="M876.87 458.27L878.23 458.03L879.58 457.81L880.94 457.6L882.3 457.42L883.65 457.26L885.01 457.1L886.37 456.93L887.73 456.77L889.08 456.61L890.44 456.45L891.8 456.29L893.15 456.13L894.51 455.98L895.87 455.82L897.22 455.66L898.58 455.51L899.94 455.36L901.3 455.21L902.65 455.06L904.01 454.92L905.37 454.78L906.72 454.64L908.08 454.51L909.44 454.37L910.79 454.25L912.15 454.12L913.51 454L914.87 453.88L916.22 453.77L917.58 453.66L918.94 453.56L920.29 453.46L921.65 453.37L923.01 453.29L924.37 453.2L925.72 453.13L927.08 453.06L928.44 452.99L929.79 452.92L931.15 452.85L932.51 452.78L933.86 452.71L935.22 452.65L936.58 452.58L937.94 452.52L939.29 452.45L940.65 452.39L942.01 452.32L943.36 452.26L944.72 452.2L946.08 452.14L947.43 452.08L948.79 452.02L950.15 451.96L951.51 451.91L952.86 451.85L954.22 451.79L955.58 451.74L956.93 451.69L958.29 451.63L959.65 451.58L961 451.53L962.36 451.48L963.72 451.43L965.08 451.39L966.43 451.34L967.79 451.3L969.15 451.25L970.5 451.21L971.86 451.17L973.22 451.13L974.58 451.09L975.93 451.05L977.29 451.02L978.65 450.98L980 450.95L981.36 450.92L982.72 450.88L984.07 450.85L985.43 450.82L986.79 450.79L988.15 450.76L989.5 450.73L990.86 450.7L992.22 450.67L993.57 450.64L994.93 450.61L996.29 450.58L997.64 450.55L999 450.52L1000.36 450.49L1001.72 450.46L1003.07 450.43L1004.43 450.4L1005.79 450.37L1007.14 450.34L1008.5 450.32L1009.86 450.29L1011.21 450.26L1012.57 450.23L1013.93 450.2L1015.29 450.17L1016.64 450.15L1018 450.12L1019.36 450.09L1020.71 450.06L1022.07 450.04L1023.43 450.01L1024.79 449.98L1026.14 449.96L1027.5 449.93L1028.86 449.9L1030.21 449.87L1031.57 449.85L1032.93 449.82L1034.28 449.79L1035.64 449.77L1037 449.74L1038.36 449.71L1039.71 449.69L1041.07 449.66L1042.43 449.63L1043.78 449.61L1045.14 449.58L1046.5 449.55L1047.85 449.53L1049.21 449.5L1050.57 449.47L1051.93 449.45L1053.28 449.42L1054.64 449.39L1056 449.37L1057.35 449.34L1058.71 449.31L1060.07 449.29L1061.42 449.26L1062.78 449.23L1064.14 449.2L1065.5 449.18L1066.85 449.15L1068.21 449.12L1069.57 449.09L1070.92 449.07L1072.28 449.04L1073.64 449.01L1075 448.98L1076.35 448.96L1077.71 448.93L1079.07 448.9L1080.42 448.87L1081.78 448.84L1083.14 448.81L1084.49 448.78L1085.85 448.76L1087.21 448.73L1088.57 448.7L1089.92 448.67L1091.28 448.64L1092.64 448.61L1093.99 448.58L1095.35 448.55L1096.71 448.52L1098.06 448.49L1099.42 448.46L1100.78 448.43L1102.14 448.4L1103.49 448.37L1104.85 448.34L1106.21 448.31L1107.56 448.28L1108.92 448.25L1110.28 448.22L1111.63 448.19L1112.99 448.16L1114.35 448.13L1115.71 448.1L1117.06 448.07L1118.42 448.04L1119.78 448.01L1121.13 447.98L1122.49 447.95L1123.85 447.92L1125.21 447.88L1126.56 447.85L1127.92 447.82L1129.28 447.79L1130.63 447.76L1131.99 447.73L1133.35 447.7L1134.7 447.67L1136.06 447.64L1137.42 447.61L1138.78 447.58L1140.13 447.55L1141.49 447.52L1142.85 447.49L1144.2 447.46L1145.56 447.43L1146.92 447.4L1148.27 447.36L1149.63 447.33L1150.99 447.3L1152.35 447.27L1153.7 447.24L1155.06 447.21L1156.42 447.18L1157.77 447.15L1159.13 447.12L1160.49 447.09L1161.84 447.06L1163.2 447.03L1164.56 447L1165.92 446.97L1167.27 446.94L1168.63 446.91L1169.99 446.88L1171.34 446.85L1172.7 446.82L1174.06 446.79L1175.42 446.76L1176.77 446.72L1178.13 446.69L1179.49 446.66L1180.84 446.63L1182.2 446.6L1183.56 446.57L1184.91 446.54L1186.27 446.51L1187.63 446.48L1188.99 446.45L1190.34 446.42L1191.7 446.4L1193.06 446.37L1194.41 446.34L1195.77 446.31L1197.13 446.28L1198.48 446.25L1199.84 446.22L1201.2 446.19L1202.56 446.16L1203.91 446.13L1205.27 446.1L1206.63 446.07L1207.98 446.04L1209.34 446.01L1210.7 445.98L1212.05 445.95L1213.41 445.92L1214.77 445.89L1216.13 445.86L1217.48 445.83L1218.84 445.8L1220.2 445.76L1221.55 445.73L1222.91 445.7L1224.27 445.67L1225.63 445.64L1226.98 445.61L1228.34 445.58L1229.7 445.55L1231.05 445.52L1232.41 445.49L1233.77 445.46L1235.12 445.42L1236.48 445.39L1237.84 445.36L1239.2 445.33L1240.55 445.3L1241.91 445.27L1243.27 445.24L1244.62 445.21L1245.98 445.18L1247.34 445.15L1248.69 445.12L1250.05 445.09L1251.41 445.06L1252.77 445.03L1254.12 445L1255.48 444.97L1256.84 444.94L1258.19 444.91L1259.55 444.88L1260.91 444.85L1262.26 444.82L1263.62 444.79L1264.98 444.76L1266.34 444.73L1267.69 444.7L1269.05 444.67L1270.41 444.64L1271.76 444.62L1273.12 444.59L1274.48 444.56L1275.84 444.53L1277.19 444.5L1278.55 444.48L1279.91 444.45L1281.26 444.42L1282.62 444.4L1283.98 444.37L1285.33 444.34L1286.69 444.32L1288.05 444.29L1289.41 444.27L1290.76 444.24L1292.12 444.22L1293.48 444.19L1294.83 444.17L1296.19 444.14L1297.55 444.12L1298.9 444.09L1300.26 444.07L1301.62 444.05L1302.98 444.03L1304.33 444L1305.69 443.98L1307.05 443.96L1308.4 443.94L1309.76 443.92L1311.12 443.89L1312.47 443.87L1313.83 443.85L1315.19 443.83L1316.55 443.81L1317.9 443.79L1319.26 443.77L1320.62 443.75L1321.97 443.73L1323.33 443.71L1324.69 443.69L1326.05 443.67L1327.4 443.65L1328.76 443.63L1330.12 443.6L1331.47 443.58L1332.83 443.56L1334.19 443.54L1335.54 443.53L1336.9 443.51L1338.26 443.49L1339.62 443.47L1340.97 443.45L1342.33 443.43L1343.69 443.41L1345.04 443.39L1346.4 443.37L1347.76 443.35L1349.11 443.33L1350.47 443.31L1351.83 443.3L1353.19 443.28L1354.54 443.26L1355.9 443.24L1357.26 443.22L1358.61 443.21L1359.97 443.19L1361.33 443.17L1362.68 443.16L1364.04 443.14L1365.4 443.12L1366.76 443.1L1368.11 443.09L1369.47 443.07L1370.83 443.06L1372.18 443.04L1373.54 443.02L1374.9 443.01L1376.26 442.99L1377.61 442.98L1378.97 442.96L1380.33 442.95L1381.68 442.94L1383.04 442.92L1384.4 442.91L1385.75 442.89L1387.11 442.88L1388.47 442.87L1389.83 442.85L1391.18 442.84L1392.54 442.83L1393.9 442.82L1395.25 442.8L1396.61 442.79L1397.97 442.78L1399.32 442.77L1400.68 442.76L1402.04 442.75L1403.4 442.74L1404.75 442.73L1406.11 442.72L1407.47 442.71L1408.82 442.7L1410.18 442.69L1411.54 442.68L1412.89 442.67L1414.25 442.66L1415.61 442.65L1416.97 442.65L1418.32 442.64" fill="none" stroke="#000" stroke-width="2.25" stroke-dasharray="3.7 6.05"/>
<g fill="#000"><rect x="871.47" y="452.87" width="10.8" height="10.8" rx="1.5" ry="1.5"/><rect x="876.94" y="452.01" width="10.8" height="10.8" rx="1.5" ry="1.5"/><rect x="920.69" y="447.71" width="10.8" height="10.8" rx="1.5" ry="1.5"/><rect x="975.38" y="445.53" width="10.8" height="10.8" rx="1.5" ry="1.5"/><rect x="1084.77" y="443.26" width="10.8" height="10.8" rx="1.5" ry="1.5"/><rect x="1194.15" y="440.82" width="10.8" height="10.8" rx="1.5" ry="1.5"/><rect x="1303.54" y="438.53" width="10.8" height="10.8" rx="1.5" ry="1.5"/><rect x="1412.92" y="437.24" width="10.8" height="10.8" rx="1.5" ry="1.5"/></g>
<g fill="#000">
<circle cx="909.4" cy="29.6" r="5.2"/>
<path d="M909.4 63.9L913.75 71.95H905.05Z" stroke="#000" stroke-width="2" stroke-linejoin="round"/>
<rect x="904.1" y="103.15" width="10.8" height="10.8" rx="1.5" ry="1.5"/>
<text transform="translate(928.49 42.3) scale(0.4398 0.3817)" font-family="Liberation Serif, DejaVu Serif, serif" font-size="100">Δ</text>
<text transform="translate(957.9 50.43) scale(0.5164 0.5211)" font-family="Liberation Serif, DejaVu Serif, serif" font-size="100" stroke="#fff" stroke-width="0.77" stroke-linejoin="miter">/</text>
<text transform="translate(973.39 42.65) scale(0.3371 0.3511)" font-family="Liberation Serif, DejaVu Serif, serif" font-style="italic" font-size="100">δ</text>
<text transform="translate(989.69 47.75) scale(0.2885 0.2362)" font-family="Liberation Serif, DejaVu Serif, serif" font-style="italic" font-size="100">L</text>
<text transform="translate(1014.42 45.33) scale(0.4968 0.3380)" font-family="Liberation Serif, DejaVu Serif, serif" font-size="100">=</text>
<text transform="translate(928.49 81.8) scale(0.4398 0.3817)" font-family="Liberation Serif, DejaVu Serif, serif" font-size="100">Δ</text>
<text transform="translate(957.9 89.93) scale(0.5164 0.5211)" font-family="Liberation Serif, DejaVu Serif, serif" font-size="100" stroke="#fff" stroke-width="0.77" stroke-linejoin="miter">/</text>
<text transform="translate(973.39 82.15) scale(0.3371 0.3511)" font-family="Liberation Serif, DejaVu Serif, serif" font-style="italic" font-size="100">δ</text>
<text transform="translate(989.69 87.25) scale(0.2885 0.2362)" font-family="Liberation Serif, DejaVu Serif, serif" font-style="italic" font-size="100">L</text>
<text transform="translate(1014.42 84.83) scale(0.4968 0.3380)" font-family="Liberation Serif, DejaVu Serif, serif" font-size="100">=</text>
<text transform="translate(928.49 121.2) scale(0.4398 0.3817)" font-family="Liberation Serif, DejaVu Serif, serif" font-size="100">Δ</text>
<text transform="translate(957.9 129.33) scale(0.5164 0.5211)" font-family="Liberation Serif, DejaVu Serif, serif" font-size="100" stroke="#fff" stroke-width="0.77" stroke-linejoin="miter">/</text>
<text transform="translate(973.39 121.55) scale(0.3371 0.3511)" font-family="Liberation Serif, DejaVu Serif, serif" font-style="italic" font-size="100">δ</text>
<text transform="translate(989.69 126.65) scale(0.2885 0.2362)" font-family="Liberation Serif, DejaVu Serif, serif" font-style="italic" font-size="100">L</text>
<text transform="translate(1014.42 124.23) scale(0.4968 0.3380)" font-family="Liberation Serif, DejaVu Serif, serif" font-size="100">=</text>
<text transform="translate(1050.63 42.64) scale(0.3538 0.3624)" font-family="Liberation Serif, DejaVu Serif, serif" font-size="100">5</text>
<text transform="translate(1068.22 42.25) scale(0.3667 0.3652)" font-family="Liberation Serif, DejaVu Serif, serif" font-size="100">.</text>
<text transform="translate(1077.62 42.64) scale(0.3452 0.3570)" font-family="Liberation Serif, DejaVu Serif, serif" font-size="100">0</text>
<text transform="translate(1051.5 81.8) scale(0.3550 0.3545)" font-family="Liberation Serif, DejaVu Serif, serif" font-size="100">2</text>
<text transform="translate(1068.22 81.75) scale(0.3667 0.3652)" font-family="Liberation Serif, DejaVu Serif, serif" font-size="100">.</text>
<text transform="translate(1076.77 82.14) scale(0.3550 0.3624)" font-family="Liberation Serif, DejaVu Serif, serif" font-size="100">5</text>
<text transform="translate(1052.11 121.2) scale(0.3214 0.3573)" font-family="Liberation Serif, DejaVu Serif, serif" font-size="100">1</text>
</g>
<g fill="#000" transform="translate(787.0 311.0) rotate(-90)">
<text transform="translate(-5.52 4.5) scale(0.5136 0.4843)" font-family="DejaVu Sans, sans-serif" font-size="100" stroke="#fff" stroke-width="3.61" stroke-linejoin="miter">⟨</text>
<text transform="translate(11.34 0.66) scale(0.3876 0.4426)" font-family="Liberation Serif, DejaVu Serif, serif" font-style="italic" font-size="100">δ</text>
<text transform="translate(29.57 6.22) scale(0.2765 0.2812)" font-family="Liberation Serif, DejaVu Serif, serif" font-style="italic" font-size="100">c</text>
<text transform="translate(41.86 4.03) scale(0.2088 0.2466)" font-family="Liberation Serif, DejaVu Serif, serif" font-size="100">*</text>
<text transform="translate(53.33 4.5) scale(0.5023 0.4843)" font-family="DejaVu Sans, sans-serif" font-size="100" stroke="#fff" stroke-width="3.65" stroke-linejoin="miter">⟩</text>
<text transform="translate(80.55 9.72) scale(0.6236 0.6346)" font-family="Liberation Serif, DejaVu Serif, serif" font-size="100" stroke="#fff" stroke-width="1.43" stroke-linejoin="miter">/</text>
<text transform="translate(99.86 0.66) scale(0.3798 0.4426)" font-family="Liberation Serif, DejaVu Serif, serif" font-style="italic" font-size="100">δ</text>
<text transform="translate(118.25 6.75) scale(0.3481 0.3177)" font-family="Liberation Serif, DejaVu Serif, serif" font-style="italic" font-size="100">L</text>
</g>
</svg>
</body></html>
